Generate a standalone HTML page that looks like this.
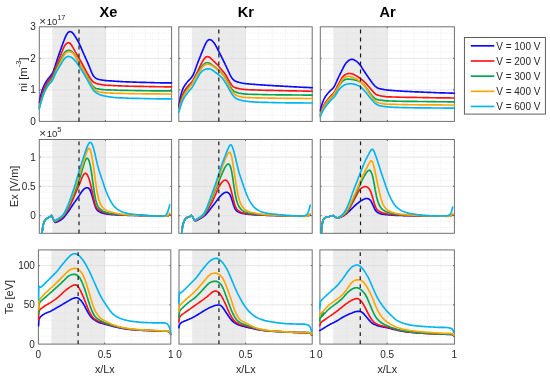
<!DOCTYPE html>
<html><head><meta charset="utf-8"><title>Plot</title>
<style>html,body{margin:0;padding:0;background:#fff}svg{display:block}text{font-family:'Liberation Sans', sans-serif;fill:#262626}</style></head>
<body>
<svg width="550" height="376" viewBox="0 0 550 376">
<rect width="550" height="376" fill="#fff"/>
<defs>
<clipPath id="cp11"><rect x="38.30" y="26.30" width="134.30" height="95.60"/></clipPath>
<clipPath id="cp12"><rect x="177.80" y="26.30" width="135.40" height="95.60"/></clipPath>
<clipPath id="cp13"><rect x="319.30" y="26.30" width="136.10" height="95.60"/></clipPath>
<clipPath id="cp21"><rect x="38.30" y="139.00" width="134.30" height="94.80"/></clipPath>
<clipPath id="cp22"><rect x="177.80" y="139.00" width="135.40" height="94.80"/></clipPath>
<clipPath id="cp23"><rect x="319.30" y="139.00" width="136.10" height="94.80"/></clipPath>
<clipPath id="cp31"><rect x="37.40" y="249.40" width="134.40" height="95.20"/></clipPath>
<clipPath id="cp32"><rect x="178.00" y="249.40" width="135.20" height="95.20"/></clipPath>
<clipPath id="cp33"><rect x="318.90" y="249.40" width="136.50" height="95.20"/></clipPath>
</defs>
<g>
<rect x="52.53" y="26.80" width="52.92" height="94.60" fill="#ebebeb"/>
<path d="M52.53 26.80V121.40M65.76 26.80V121.40M78.99 26.80V121.40M92.22 26.80V121.40M118.68 26.80V121.40M131.91 26.80V121.40M145.14 26.80V121.40M158.37 26.80V121.40M39.30 115.09H171.60M39.30 108.79H171.60M39.30 102.48H171.60M39.30 96.17H171.60M39.30 83.56H171.60M39.30 77.25H171.60M39.30 70.95H171.60M39.30 64.64H171.60M39.30 52.03H171.60M39.30 45.72H171.60M39.30 39.41H171.60M39.30 33.11H171.60" stroke="#e0e0e0" stroke-width="0.55" stroke-dasharray="1 1.3" fill="none"/>
<path d="M105.45 26.80V121.40M39.30 89.87H171.60M39.30 58.33H171.60" stroke="#dadada" stroke-width="0.7" fill="none"/>
<path d="M105.45 121.40v-1.4M105.45 26.80v1.4M39.30 89.87h1.4M171.60 89.87h-1.4M39.30 58.33h1.4M171.60 58.33h-1.4" stroke="#555" stroke-width="0.9" fill="none"/>
<rect x="39.30" y="26.80" width="132.30" height="94.60" fill="none" stroke="#707070" stroke-width="1"/>
<g clip-path="url(#cp11)" fill="none" stroke-width="1.65" stroke-linejoin="round" stroke-linecap="round">
<path d="M39.2 102.7L40.0 98.9L40.7 95.5L41.5 92.6L42.2 90.1L43.0 88.1L43.7 86.3L44.5 84.7L45.2 83.3L46.0 82.0L46.7 80.8L47.5 79.8L48.2 78.8L49.0 77.9L49.7 77.0L50.5 76.0L51.2 75.0L52.0 73.9L52.7 72.6L53.5 70.8L54.2 68.8L55.0 66.5L55.7 64.2L56.5 61.8L57.2 59.5L58.0 57.2L58.7 55.1L59.5 52.9L60.2 50.8L61.0 48.7L61.7 46.6L62.5 44.5L63.2 42.5L64.0 40.5L64.7 38.6L65.5 36.8L66.2 35.2L67.0 33.9L67.7 32.9L68.5 32.2L69.2 31.8L70.0 31.6L70.7 31.7L71.5 32.0L72.2 32.5L73.0 33.3L73.7 34.2L74.5 35.3L75.2 36.5L76.0 37.7L76.7 39.0L77.5 40.3L78.2 41.7L79.0 43.1L79.7 44.7L80.5 46.4L81.2 48.2L82.0 49.9L82.7 51.7L83.5 53.4L84.2 55.0L85.0 56.7L85.7 58.3L86.5 60.0L87.2 61.7L88.0 63.4L88.7 65.1L89.5 67.0L90.2 68.9L91.0 70.8L91.7 72.6L92.5 74.2L93.2 75.5L94.0 76.5L94.7 77.3L95.5 77.9L96.2 78.4L97.0 78.8L97.7 79.1L98.5 79.3L99.2 79.5L100.0 79.7L100.7 79.8L101.5 80.0L102.2 80.1L103.0 80.2L103.7 80.3L104.5 80.4L105.2 80.5L106.0 80.6L106.7 80.6L107.5 80.7L108.2 80.7L109.0 80.8L109.7 80.8L110.5 80.9L111.2 80.9L112.0 81.0L112.7 81.0L113.5 81.1L114.2 81.1L115.0 81.2L115.7 81.2L116.5 81.3L117.2 81.3L118.0 81.4L118.7 81.4L119.5 81.5L120.2 81.5L121.0 81.6L121.7 81.6L122.5 81.6L123.2 81.7L124.0 81.7L124.7 81.7L125.5 81.8L126.2 81.8L127.0 81.9L127.7 81.9L128.4 81.9L129.2 81.9L129.9 82.0L130.7 82.0L131.4 82.0L132.2 82.0L132.9 82.1L133.7 82.1L134.4 82.1L135.2 82.1L135.9 82.1L136.7 82.2L137.4 82.2L138.2 82.2L138.9 82.2L139.7 82.3L140.4 82.3L141.2 82.3L141.9 82.3L142.7 82.3L143.4 82.4L144.2 82.4L144.9 82.4L145.7 82.4L146.4 82.5L147.2 82.5L147.9 82.5L148.7 82.5L149.4 82.5L150.2 82.5L150.9 82.6L151.7 82.6L152.4 82.6L153.2 82.6L153.9 82.6L154.7 82.7L155.4 82.7L156.2 82.7L156.9 82.7L157.7 82.7L158.4 82.7L159.2 82.7L159.9 82.8L160.7 82.8L161.4 82.8L162.2 82.8L162.9 82.8L163.7 82.8L164.4 82.8L165.2 82.8L165.9 82.9L166.7 82.9L167.4 82.9L168.2 82.9L168.9 82.9L169.7 82.9L170.4 82.9L171.2 82.9L171.7 82.9" stroke="#0a0aff"/>
<path d="M39.2 105.9L40.0 102.5L40.7 99.3L41.5 96.4L42.2 93.8L43.0 91.6L43.7 89.7L44.5 87.9L45.2 86.4L46.0 85.0L46.7 83.7L47.5 82.5L48.2 81.4L49.0 80.3L49.7 79.4L50.5 78.5L51.2 77.5L52.0 76.3L52.7 74.9L53.5 73.2L54.2 71.2L55.0 69.2L55.7 67.2L56.5 65.3L57.2 63.5L58.0 61.7L58.7 60.0L59.5 58.2L60.2 56.3L61.0 54.4L61.7 52.4L62.5 50.5L63.2 48.7L64.0 47.0L64.7 45.7L65.5 44.6L66.2 43.8L67.0 43.2L67.7 42.9L68.5 42.7L69.2 42.8L70.0 43.2L70.7 43.9L71.5 45.0L72.2 46.3L73.0 47.6L73.7 48.9L74.5 50.2L75.2 51.6L76.0 52.9L76.7 54.2L77.5 55.5L78.2 56.8L79.0 58.2L79.7 59.5L80.5 60.8L81.2 62.2L82.0 63.5L82.7 64.9L83.5 66.2L84.2 67.6L85.0 68.9L85.7 70.3L86.5 71.7L87.2 73.1L88.0 74.4L88.7 75.7L89.5 77.0L90.2 78.2L91.0 79.3L91.7 80.3L92.5 81.1L93.2 81.8L94.0 82.3L94.7 82.8L95.5 83.1L96.2 83.4L97.0 83.7L97.7 83.9L98.5 84.0L99.2 84.2L100.0 84.3L100.7 84.5L101.5 84.6L102.2 84.8L103.0 84.9L103.7 85.0L104.5 85.1L105.2 85.1L106.0 85.2L106.7 85.2L107.5 85.3L108.2 85.3L109.0 85.3L109.7 85.4L110.5 85.4L111.2 85.5L112.0 85.5L112.7 85.5L113.5 85.6L114.2 85.6L115.0 85.6L115.7 85.7L116.5 85.7L117.2 85.7L118.0 85.8L118.7 85.8L119.5 85.8L120.2 85.9L121.0 85.9L121.7 85.9L122.5 86.0L123.2 86.0L124.0 86.0L124.7 86.0L125.5 86.1L126.2 86.1L127.0 86.1L127.7 86.1L128.4 86.1L129.2 86.2L129.9 86.2L130.7 86.2L131.4 86.2L132.2 86.2L132.9 86.2L133.7 86.3L134.4 86.3L135.2 86.3L135.9 86.3L136.7 86.3L137.4 86.3L138.2 86.3L138.9 86.4L139.7 86.4L140.4 86.4L141.2 86.4L141.9 86.4L142.7 86.4L143.4 86.4L144.2 86.5L144.9 86.5L145.7 86.5L146.4 86.5L147.2 86.5L147.9 86.5L148.7 86.5L149.4 86.6L150.2 86.6L150.9 86.6L151.7 86.6L152.4 86.6L153.2 86.6L153.9 86.6L154.7 86.6L155.4 86.7L156.2 86.7L156.9 86.7L157.7 86.7L158.4 86.7L159.2 86.7L159.9 86.7L160.7 86.7L161.4 86.7L162.2 86.7L162.9 86.7L163.7 86.8L164.4 86.8L165.2 86.8L165.9 86.8L166.7 86.8L167.4 86.8L168.2 86.8L168.9 86.8L169.7 86.8L170.4 86.8L171.2 86.8L171.7 86.8" stroke="#ff1414"/>
<path d="M39.2 107.5L40.0 104.6L40.7 101.7L41.5 99.1L42.2 96.7L43.0 94.5L43.7 92.6L44.5 90.8L45.2 89.2L46.0 87.7L46.7 86.4L47.5 85.2L48.2 84.0L49.0 82.9L49.7 81.9L50.5 80.9L51.2 79.9L52.0 78.8L52.7 77.3L53.5 75.6L54.2 73.8L55.0 71.8L55.7 70.0L56.5 68.3L57.2 66.6L58.0 65.1L58.7 63.6L59.5 62.1L60.2 60.6L61.0 59.1L61.7 57.6L62.5 56.2L63.2 54.8L64.0 53.6L64.7 52.5L65.5 51.7L66.2 51.1L67.0 50.7L67.7 50.5L68.5 50.4L69.2 50.4L70.0 50.6L70.7 50.8L71.5 51.2L72.2 51.8L73.0 52.5L73.7 53.4L74.5 54.5L75.2 55.7L76.0 57.0L76.7 58.3L77.5 59.6L78.2 61.0L79.0 62.3L79.7 63.6L80.5 64.9L81.2 66.2L82.0 67.4L82.7 68.7L83.5 70.0L84.2 71.3L85.0 72.6L85.7 73.9L86.5 75.2L87.2 76.6L88.0 77.9L88.7 79.3L89.5 80.7L90.2 82.0L91.0 83.2L91.7 84.4L92.5 85.5L93.2 86.4L94.0 87.2L94.7 87.8L95.5 88.2L96.2 88.5L97.0 88.7L97.7 88.8L98.5 88.9L99.2 89.1L100.0 89.2L100.7 89.3L101.5 89.4L102.2 89.5L103.0 89.6L103.7 89.7L104.5 89.7L105.2 89.8L106.0 89.8L106.7 89.8L107.5 89.8L108.2 89.9L109.0 89.9L109.7 89.9L110.5 89.9L111.2 90.0L112.0 90.0L112.7 90.0L113.5 90.0L114.2 90.1L115.0 90.1L115.7 90.1L116.5 90.1L117.2 90.2L118.0 90.2L118.7 90.2L119.5 90.2L120.2 90.3L121.0 90.3L121.7 90.3L122.5 90.3L123.2 90.3L124.0 90.4L124.7 90.4L125.5 90.4L126.2 90.4L127.0 90.4L127.7 90.4L128.4 90.5L129.2 90.5L129.9 90.5L130.7 90.5L131.4 90.5L132.2 90.5L132.9 90.5L133.7 90.5L134.4 90.5L135.2 90.6L135.9 90.6L136.7 90.6L137.4 90.6L138.2 90.6L138.9 90.6L139.7 90.6L140.4 90.6L141.2 90.6L141.9 90.6L142.7 90.7L143.4 90.7L144.2 90.7L144.9 90.7L145.7 90.7L146.4 90.7L147.2 90.7L147.9 90.7L148.7 90.7L149.4 90.7L150.2 90.7L150.9 90.8L151.7 90.8L152.4 90.8L153.2 90.8L153.9 90.8L154.7 90.8L155.4 90.8L156.2 90.8L156.9 90.8L157.7 90.8L158.4 90.8L159.2 90.8L159.9 90.8L160.7 90.9L161.4 90.9L162.2 90.9L162.9 90.9L163.7 90.9L164.4 90.9L165.2 90.9L165.9 90.9L166.7 90.9L167.4 90.9L168.2 90.9L168.9 90.9L169.7 90.9L170.4 90.9L171.2 90.9L171.7 90.9" stroke="#00a651"/>
<path d="M39.2 108.3L40.0 105.6L40.7 103.0L41.5 100.5L42.2 98.3L43.0 96.2L43.7 94.2L44.5 92.4L45.2 90.8L46.0 89.3L46.7 88.0L47.5 86.7L48.2 85.5L49.0 84.4L49.7 83.3L50.5 82.3L51.2 81.3L52.0 80.3L52.7 79.0L53.5 77.5L54.2 75.7L55.0 73.9L55.7 72.1L56.5 70.3L57.2 68.7L58.0 67.1L58.7 65.6L59.5 64.1L60.2 62.6L61.0 61.1L61.7 59.6L62.5 58.1L63.2 56.7L64.0 55.3L64.7 54.2L65.5 53.2L66.2 52.6L67.0 52.1L67.7 51.8L68.5 51.6L69.2 51.6L70.0 51.7L70.7 51.9L71.5 52.2L72.2 52.7L73.0 53.3L73.7 54.0L74.5 55.0L75.2 56.2L76.0 57.4L76.7 58.7L77.5 60.0L78.2 61.3L79.0 62.6L79.7 63.9L80.5 65.2L81.2 66.5L82.0 67.8L82.7 69.1L83.5 70.5L84.2 71.8L85.0 73.1L85.7 74.5L86.5 75.8L87.2 77.2L88.0 78.6L88.7 80.1L89.5 81.5L90.2 82.9L91.0 84.2L91.7 85.5L92.5 86.7L93.2 87.8L94.0 88.8L94.7 89.5L95.5 90.1L96.2 90.6L97.0 91.0L97.7 91.3L98.5 91.6L99.2 91.8L100.0 92.0L100.7 92.1L101.5 92.3L102.2 92.4L103.0 92.5L103.7 92.7L104.5 92.8L105.2 92.8L106.0 92.9L106.7 92.9L107.5 93.0L108.2 93.0L109.0 93.0L109.7 93.0L110.5 93.1L111.2 93.1L112.0 93.1L112.7 93.1L113.5 93.2L114.2 93.2L115.0 93.2L115.7 93.2L116.5 93.3L117.2 93.3L118.0 93.3L118.7 93.3L119.5 93.4L120.2 93.4L121.0 93.4L121.7 93.4L122.5 93.4L123.2 93.5L124.0 93.5L124.7 93.5L125.5 93.5L126.2 93.5L127.0 93.5L127.7 93.5L128.4 93.6L129.2 93.6L129.9 93.6L130.7 93.6L131.4 93.6L132.2 93.6L132.9 93.6L133.7 93.6L134.4 93.6L135.2 93.7L135.9 93.7L136.7 93.7L137.4 93.7L138.2 93.7L138.9 93.7L139.7 93.7L140.4 93.7L141.2 93.7L141.9 93.7L142.7 93.8L143.4 93.8L144.2 93.8L144.9 93.8L145.7 93.8L146.4 93.8L147.2 93.8L147.9 93.8L148.7 93.8L149.4 93.8L150.2 93.8L150.9 93.9L151.7 93.9L152.4 93.9L153.2 93.9L153.9 93.9L154.7 93.9L155.4 93.9L156.2 93.9L156.9 93.9L157.7 93.9L158.4 93.9L159.2 93.9L159.9 93.9L160.7 94.0L161.4 94.0L162.2 94.0L162.9 94.0L163.7 94.0L164.4 94.0L165.2 94.0L165.9 94.0L166.7 94.0L167.4 94.0L168.2 94.0L168.9 94.0L169.7 94.0L170.4 94.0L171.2 94.0L171.7 94.0" stroke="#ffa500"/>
<path d="M39.2 109.1L40.0 106.1L40.7 103.3L41.5 100.6L42.2 98.1L43.0 95.8L43.7 93.7L44.5 91.8L45.2 90.2L46.0 88.7L46.7 87.4L47.5 86.2L48.2 85.2L49.0 84.2L49.7 83.5L50.5 82.8L51.2 82.0L52.0 81.0L52.7 79.7L53.5 78.1L54.2 76.4L55.0 74.7L55.7 73.2L56.5 71.7L57.2 70.4L58.0 69.1L58.7 67.9L59.5 66.6L60.2 65.4L61.0 64.1L61.7 62.9L62.5 61.6L63.2 60.4L64.0 59.3L64.7 58.5L65.5 57.7L66.2 57.2L67.0 56.8L67.7 56.5L68.5 56.4L69.2 56.5L70.0 56.7L70.7 57.0L71.5 57.4L72.2 57.9L73.0 58.5L73.7 59.2L74.5 60.0L75.2 60.9L76.0 61.8L76.7 62.8L77.5 63.9L78.2 65.0L79.0 66.1L79.7 67.3L80.5 68.4L81.2 69.6L82.0 70.8L82.7 72.0L83.5 73.3L84.2 74.5L85.0 75.8L85.7 77.1L86.5 78.3L87.2 79.6L88.0 80.9L88.7 82.3L89.5 83.6L90.2 85.0L91.0 86.4L91.7 87.7L92.5 88.9L93.2 90.0L94.0 90.9L94.7 91.6L95.5 92.2L96.2 92.8L97.0 93.2L97.7 93.6L98.5 94.0L99.2 94.4L100.0 94.7L100.7 94.9L101.5 95.2L102.2 95.4L103.0 95.6L103.7 95.8L104.5 96.0L105.2 96.1L106.0 96.3L106.7 96.4L107.5 96.5L108.2 96.7L109.0 96.8L109.7 96.9L110.5 97.0L111.2 97.1L112.0 97.2L112.7 97.3L113.5 97.4L114.2 97.5L115.0 97.5L115.7 97.6L116.5 97.6L117.2 97.7L118.0 97.7L118.7 97.7L119.5 97.8L120.2 97.8L121.0 97.8L121.7 97.9L122.5 97.9L123.2 97.9L124.0 98.0L124.7 98.0L125.5 98.0L126.2 98.1L127.0 98.1L127.7 98.1L128.4 98.2L129.2 98.2L129.9 98.2L130.7 98.2L131.4 98.3L132.2 98.3L132.9 98.3L133.7 98.3L134.4 98.3L135.2 98.4L135.9 98.4L136.7 98.4L137.4 98.4L138.2 98.4L138.9 98.5L139.7 98.5L140.4 98.5L141.2 98.5L141.9 98.5L142.7 98.5L143.4 98.5L144.2 98.6L144.9 98.6L145.7 98.6L146.4 98.6L147.2 98.6L147.9 98.6L148.7 98.6L149.4 98.6L150.2 98.7L150.9 98.7L151.7 98.7L152.4 98.7L153.2 98.7L153.9 98.7L154.7 98.7L155.4 98.7L156.2 98.8L156.9 98.8L157.7 98.8L158.4 98.8L159.2 98.8L159.9 98.8L160.7 98.8L161.4 98.8L162.2 98.8L162.9 98.8L163.7 98.9L164.4 98.9L165.2 98.9L165.9 98.9L166.7 98.9L167.4 98.9L168.2 98.9L168.9 98.9L169.7 98.9L170.4 98.9L171.2 98.9L171.7 98.9" stroke="#00b4f0"/>
</g>
<path d="M78.99 121.40V27.10" stroke="#1a1a1a" stroke-width="1.2" stroke-dasharray="3.8 4.2" fill="none"/>
</g>
<g>
<rect x="192.14" y="26.80" width="53.36" height="94.60" fill="#ebebeb"/>
<path d="M192.14 26.80V121.40M205.48 26.80V121.40M218.82 26.80V121.40M232.16 26.80V121.40M258.84 26.80V121.40M272.18 26.80V121.40M285.52 26.80V121.40M298.86 26.80V121.40M178.80 115.09H312.20M178.80 108.79H312.20M178.80 102.48H312.20M178.80 96.17H312.20M178.80 83.56H312.20M178.80 77.25H312.20M178.80 70.95H312.20M178.80 64.64H312.20M178.80 52.03H312.20M178.80 45.72H312.20M178.80 39.41H312.20M178.80 33.11H312.20" stroke="#e0e0e0" stroke-width="0.55" stroke-dasharray="1 1.3" fill="none"/>
<path d="M245.50 26.80V121.40M178.80 89.87H312.20M178.80 58.33H312.20" stroke="#dadada" stroke-width="0.7" fill="none"/>
<path d="M245.50 121.40v-1.4M245.50 26.80v1.4M178.80 89.87h1.4M312.20 89.87h-1.4M178.80 58.33h1.4M312.20 58.33h-1.4" stroke="#555" stroke-width="0.9" fill="none"/>
<rect x="178.80" y="26.80" width="133.40" height="94.60" fill="none" stroke="#707070" stroke-width="1"/>
<g clip-path="url(#cp12)" fill="none" stroke-width="1.65" stroke-linejoin="round" stroke-linecap="round">
<path d="M178.8 106.6L179.6 101.9L180.3 97.7L181.1 94.4L181.8 91.7L182.6 89.6L183.3 87.9L184.1 86.5L184.8 85.3L185.6 84.2L186.3 83.2L187.1 82.3L187.8 81.4L188.6 80.6L189.3 79.9L190.1 79.1L190.8 78.3L191.6 77.4L192.3 76.3L193.1 75.0L193.8 73.4L194.6 71.5L195.3 69.5L196.1 67.3L196.8 65.2L197.6 63.2L198.3 61.3L199.1 59.4L199.8 57.5L200.6 55.6L201.3 53.7L202.1 51.9L202.8 50.1L203.6 48.3L204.3 46.5L205.1 44.8L205.8 43.3L206.6 41.9L207.3 40.9L208.1 40.2L208.8 39.8L209.6 39.6L210.3 39.7L211.1 40.0L211.8 40.5L212.6 41.2L213.3 42.0L214.1 42.9L214.8 44.0L215.6 45.3L216.3 46.6L217.1 48.1L217.8 49.5L218.6 51.0L219.3 52.5L220.1 54.0L220.8 55.5L221.6 57.0L222.3 58.5L223.1 60.0L223.8 61.5L224.6 63.0L225.3 64.6L226.1 66.1L226.8 67.8L227.6 69.4L228.3 71.1L229.1 72.7L229.8 74.3L230.6 75.8L231.3 77.1L232.1 78.3L232.8 79.2L233.6 79.9L234.3 80.5L235.1 81.0L235.8 81.3L236.6 81.6L237.3 81.9L238.1 82.1L238.8 82.3L239.6 82.5L240.3 82.7L241.1 82.8L241.8 83.0L242.6 83.2L243.3 83.3L244.1 83.4L244.8 83.5L245.6 83.6L246.3 83.7L247.1 83.8L247.8 83.9L248.6 83.9L249.3 84.0L250.1 84.0L250.8 84.1L251.6 84.2L252.3 84.2L253.1 84.3L253.8 84.3L254.6 84.4L255.3 84.5L256.1 84.5L256.8 84.6L257.6 84.6L258.3 84.7L259.1 84.7L259.8 84.8L260.6 84.8L261.3 84.9L262.1 84.9L262.8 85.0L263.6 85.0L264.3 85.1L265.1 85.1L265.8 85.2L266.6 85.2L267.3 85.3L268.1 85.3L268.8 85.4L269.6 85.4L270.3 85.5L271.1 85.5L271.8 85.5L272.6 85.6L273.3 85.6L274.1 85.7L274.8 85.7L275.6 85.8L276.3 85.8L277.1 85.8L277.8 85.9L278.6 85.9L279.3 86.0L280.1 86.0L280.8 86.1L281.6 86.1L282.3 86.1L283.1 86.2L283.8 86.2L284.6 86.3L285.3 86.3L286.1 86.3L286.8 86.4L287.6 86.4L288.3 86.5L289.1 86.5L289.8 86.6L290.6 86.6L291.3 86.6L292.1 86.7L292.8 86.7L293.6 86.8L294.3 86.8L295.1 86.8L295.8 86.9L296.6 86.9L297.3 87.0L298.1 87.0L298.8 87.0L299.6 87.1L300.3 87.1L301.1 87.2L301.8 87.2L302.6 87.2L303.3 87.3L304.1 87.3L304.8 87.3L305.6 87.4L306.3 87.4L307.1 87.5L307.8 87.5L308.6 87.5L309.3 87.6L310.1 87.6L310.8 87.6L311.6 87.7L312.3 87.7" stroke="#0a0aff"/>
<path d="M178.8 109.1L179.6 105.7L180.3 102.4L181.1 99.6L181.8 97.1L182.6 95.0L183.3 93.2L184.1 91.7L184.8 90.3L185.6 89.2L186.3 88.1L187.1 87.1L187.8 86.2L188.6 85.3L189.3 84.5L190.1 83.8L190.8 83.1L191.6 82.2L192.3 81.2L193.1 79.9L193.8 78.6L194.6 77.2L195.3 75.9L196.1 74.5L196.8 73.1L197.6 71.6L198.3 70.0L199.1 68.4L199.8 66.7L200.6 65.1L201.3 63.6L202.1 62.2L202.8 60.9L203.6 59.7L204.3 58.6L205.1 57.8L205.8 57.1L206.6 56.7L207.3 56.6L208.1 56.7L208.8 56.9L209.6 57.3L210.3 57.9L211.1 58.6L211.8 59.3L212.6 60.0L213.3 60.8L214.1 61.5L214.8 62.2L215.6 63.0L216.3 63.7L217.1 64.5L217.8 65.3L218.6 66.2L219.3 67.0L220.1 67.9L220.8 68.8L221.6 69.7L222.3 70.6L223.1 71.4L223.8 72.3L224.6 73.3L225.3 74.3L226.1 75.5L226.8 76.8L227.6 78.1L228.3 79.5L229.1 80.8L229.8 82.1L230.6 83.3L231.3 84.5L232.1 85.5L232.8 86.3L233.6 86.9L234.3 87.3L235.1 87.6L235.8 87.9L236.6 88.1L237.3 88.3L238.1 88.4L238.8 88.6L239.6 88.7L240.3 88.9L241.1 89.0L241.8 89.1L242.6 89.2L243.3 89.3L244.1 89.4L244.8 89.5L245.6 89.6L246.3 89.6L247.1 89.6L247.8 89.7L248.6 89.7L249.3 89.7L250.1 89.8L250.8 89.8L251.6 89.8L252.3 89.9L253.1 89.9L253.8 89.9L254.6 89.9L255.3 90.0L256.1 90.0L256.8 90.0L257.6 90.0L258.3 90.1L259.1 90.1L259.8 90.1L260.6 90.1L261.3 90.2L262.1 90.2L262.8 90.2L263.6 90.2L264.3 90.2L265.1 90.3L265.8 90.3L266.6 90.3L267.3 90.3L268.1 90.3L268.8 90.4L269.6 90.4L270.3 90.4L271.1 90.4L271.8 90.4L272.6 90.4L273.3 90.4L274.1 90.5L274.8 90.5L275.6 90.5L276.3 90.5L277.1 90.5L277.8 90.5L278.6 90.6L279.3 90.6L280.1 90.6L280.8 90.6L281.6 90.6L282.3 90.6L283.1 90.7L283.8 90.7L284.6 90.7L285.3 90.7L286.1 90.7L286.8 90.7L287.6 90.8L288.3 90.8L289.1 90.8L289.8 90.8L290.6 90.8L291.3 90.8L292.1 90.8L292.8 90.9L293.6 90.9L294.3 90.9L295.1 90.9L295.8 90.9L296.6 90.9L297.3 91.0L298.1 91.0L298.8 91.0L299.6 91.0L300.3 91.0L301.1 91.0L301.8 91.0L302.6 91.0L303.3 91.1L304.1 91.1L304.8 91.1L305.6 91.1L306.3 91.1L307.1 91.1L307.8 91.1L308.6 91.1L309.3 91.2L310.1 91.2L310.8 91.2L311.6 91.2L312.3 91.2" stroke="#ff1414"/>
<path d="M178.8 110.0L179.6 107.1L180.3 104.3L181.1 101.8L181.8 99.5L182.6 97.5L183.3 95.7L184.1 94.1L184.8 92.8L185.6 91.6L186.3 90.5L187.1 89.5L187.8 88.5L188.6 87.6L189.3 86.7L190.1 85.8L190.8 84.9L191.6 84.0L192.3 82.8L193.1 81.4L193.8 79.9L194.6 78.4L195.3 77.0L196.1 75.7L196.8 74.5L197.6 73.3L198.3 72.1L199.1 70.9L199.8 69.6L200.6 68.5L201.3 67.3L202.1 66.2L202.8 65.3L203.6 64.5L204.3 63.9L205.1 63.4L205.8 63.0L206.6 62.8L207.3 62.7L208.1 62.7L208.8 62.9L209.6 63.3L210.3 63.7L211.1 64.2L211.8 64.7L212.6 65.3L213.3 65.8L214.1 66.4L214.8 67.0L215.6 67.6L216.3 68.2L217.1 68.8L217.8 69.4L218.6 70.0L219.3 70.7L220.1 71.3L220.8 72.0L221.6 72.8L222.3 73.7L223.1 74.7L223.8 75.7L224.6 76.9L225.3 78.0L226.1 79.3L226.8 80.5L227.6 81.9L228.3 83.2L229.1 84.6L229.8 86.0L230.6 87.3L231.3 88.4L232.1 89.4L232.8 90.2L233.6 90.9L234.3 91.4L235.1 91.8L235.8 92.1L236.6 92.4L237.3 92.6L238.1 92.8L238.8 93.0L239.6 93.2L240.3 93.3L241.1 93.5L241.8 93.6L242.6 93.7L243.3 93.8L244.1 93.9L244.8 94.0L245.6 94.1L246.3 94.1L247.1 94.1L247.8 94.2L248.6 94.2L249.3 94.2L250.1 94.2L250.8 94.2L251.6 94.3L252.3 94.3L253.1 94.3L253.8 94.3L254.6 94.4L255.3 94.4L256.1 94.4L256.8 94.4L257.6 94.4L258.3 94.5L259.1 94.5L259.8 94.5L260.6 94.5L261.3 94.5L262.1 94.5L262.8 94.6L263.6 94.6L264.3 94.6L265.1 94.6L265.8 94.6L266.6 94.6L267.3 94.6L268.1 94.7L268.8 94.7L269.6 94.7L270.3 94.7L271.1 94.7L271.8 94.7L272.6 94.7L273.3 94.7L274.1 94.7L274.8 94.7L275.6 94.8L276.3 94.8L277.1 94.8L277.8 94.8L278.6 94.8L279.3 94.8L280.1 94.8L280.8 94.8L281.6 94.8L282.3 94.8L283.1 94.8L283.8 94.9L284.6 94.9L285.3 94.9L286.1 94.9L286.8 94.9L287.6 94.9L288.3 94.9L289.1 94.9L289.8 94.9L290.6 94.9L291.3 94.9L292.1 94.9L292.8 95.0L293.6 95.0L294.3 95.0L295.1 95.0L295.8 95.0L296.6 95.0L297.3 95.0L298.1 95.0L298.8 95.0L299.6 95.0L300.3 95.0L301.1 95.0L301.8 95.0L302.6 95.0L303.3 95.1L304.1 95.1L304.8 95.1L305.6 95.1L306.3 95.1L307.1 95.1L307.8 95.1L308.6 95.1L309.3 95.1L310.1 95.1L310.8 95.1L311.6 95.1L312.3 95.1" stroke="#00a651"/>
<path d="M178.8 110.4L179.6 107.6L180.3 104.9L181.1 102.4L181.8 100.2L182.6 98.2L183.3 96.4L184.1 94.9L184.8 93.5L185.6 92.4L186.3 91.3L187.1 90.3L187.8 89.3L188.6 88.4L189.3 87.4L190.1 86.5L190.8 85.6L191.6 84.6L192.3 83.4L193.1 82.1L193.8 80.6L194.6 79.2L195.3 77.8L196.1 76.6L196.8 75.5L197.6 74.3L198.3 73.2L199.1 72.1L199.8 70.9L200.6 69.7L201.3 68.6L202.1 67.6L202.8 66.6L203.6 65.8L204.3 65.2L205.1 64.7L205.8 64.3L206.6 64.1L207.3 64.0L208.1 64.0L208.8 64.2L209.6 64.4L210.3 64.7L211.1 65.1L211.8 65.5L212.6 65.9L213.3 66.4L214.1 67.0L214.8 67.5L215.6 68.1L216.3 68.7L217.1 69.3L217.8 69.9L218.6 70.5L219.3 71.2L220.1 71.8L220.8 72.6L221.6 73.4L222.3 74.3L223.1 75.3L223.8 76.4L224.6 77.5L225.3 78.8L226.1 80.1L226.8 81.4L227.6 82.8L228.3 84.3L229.1 85.9L229.8 87.4L230.6 88.8L231.3 90.1L232.1 91.3L232.8 92.4L233.6 93.2L234.3 93.9L235.1 94.5L235.8 95.0L236.6 95.5L237.3 95.8L238.1 96.1L238.8 96.3L239.6 96.5L240.3 96.7L241.1 96.8L241.8 97.0L242.6 97.1L243.3 97.2L244.1 97.3L244.8 97.4L245.6 97.5L246.3 97.5L247.1 97.5L247.8 97.6L248.6 97.6L249.3 97.6L250.1 97.6L250.8 97.6L251.6 97.7L252.3 97.7L253.1 97.7L253.8 97.7L254.6 97.7L255.3 97.8L256.1 97.8L256.8 97.8L257.6 97.8L258.3 97.9L259.1 97.9L259.8 97.9L260.6 97.9L261.3 97.9L262.1 97.9L262.8 98.0L263.6 98.0L264.3 98.0L265.1 98.0L265.8 98.0L266.6 98.0L267.3 98.0L268.1 98.1L268.8 98.1L269.6 98.1L270.3 98.1L271.1 98.1L271.8 98.1L272.6 98.1L273.3 98.1L274.1 98.1L274.8 98.1L275.6 98.2L276.3 98.2L277.1 98.2L277.8 98.2L278.6 98.2L279.3 98.2L280.1 98.2L280.8 98.2L281.6 98.2L282.3 98.2L283.1 98.2L283.8 98.3L284.6 98.3L285.3 98.3L286.1 98.3L286.8 98.3L287.6 98.3L288.3 98.3L289.1 98.3L289.8 98.3L290.6 98.3L291.3 98.3L292.1 98.3L292.8 98.4L293.6 98.4L294.3 98.4L295.1 98.4L295.8 98.4L296.6 98.4L297.3 98.4L298.1 98.4L298.8 98.4L299.6 98.4L300.3 98.4L301.1 98.4L301.8 98.4L302.6 98.4L303.3 98.5L304.1 98.5L304.8 98.5L305.6 98.5L306.3 98.5L307.1 98.5L307.8 98.5L308.6 98.5L309.3 98.5L310.1 98.5L310.8 98.5L311.6 98.5L312.3 98.5" stroke="#ffa500"/>
<path d="M178.8 112.1L179.6 109.5L180.3 107.0L181.1 104.7L181.8 102.7L182.6 100.9L183.3 99.3L184.1 97.9L184.8 96.6L185.6 95.5L186.3 94.4L187.1 93.4L187.8 92.5L188.6 91.6L189.3 90.7L190.1 89.8L190.8 89.0L191.6 88.1L192.3 87.1L193.1 85.9L193.8 84.6L194.6 83.2L195.3 81.8L196.1 80.4L196.8 79.0L197.6 77.6L198.3 76.3L199.1 75.0L199.8 73.8L200.6 72.8L201.3 71.9L202.1 71.1L202.8 70.6L203.6 70.1L204.3 69.7L205.1 69.4L205.8 69.1L206.6 69.0L207.3 68.9L208.1 68.9L208.8 68.9L209.6 69.0L210.3 69.1L211.1 69.4L211.8 69.8L212.6 70.2L213.3 70.8L214.1 71.3L214.8 71.9L215.6 72.5L216.3 73.0L217.1 73.6L217.8 74.2L218.6 74.8L219.3 75.5L220.1 76.1L220.8 76.7L221.6 77.5L222.3 78.2L223.1 79.1L223.8 80.2L224.6 81.3L225.3 82.5L226.1 83.7L226.8 85.0L227.6 86.3L228.3 87.7L229.1 89.1L229.8 90.5L230.6 91.8L231.3 93.1L232.1 94.3L232.8 95.3L233.6 96.3L234.3 97.0L235.1 97.7L235.8 98.3L236.6 98.7L237.3 99.1L238.1 99.4L238.8 99.6L239.6 99.8L240.3 100.0L241.1 100.2L241.8 100.4L242.6 100.6L243.3 100.7L244.1 100.9L244.8 101.0L245.6 101.1L246.3 101.2L247.1 101.3L247.8 101.4L248.6 101.5L249.3 101.6L250.1 101.6L250.8 101.7L251.6 101.8L252.3 101.9L253.1 101.9L253.8 102.0L254.6 102.0L255.3 102.1L256.1 102.1L256.8 102.1L257.6 102.1L258.3 102.2L259.1 102.2L259.8 102.2L260.6 102.2L261.3 102.3L262.1 102.3L262.8 102.3L263.6 102.3L264.3 102.3L265.1 102.4L265.8 102.4L266.6 102.4L267.3 102.4L268.1 102.4L268.8 102.5L269.6 102.5L270.3 102.5L271.1 102.5L271.8 102.5L272.6 102.6L273.3 102.6L274.1 102.6L274.8 102.6L275.6 102.6L276.3 102.6L277.1 102.6L277.8 102.7L278.6 102.7L279.3 102.7L280.1 102.7L280.8 102.7L281.6 102.7L282.3 102.7L283.1 102.7L283.8 102.7L284.6 102.7L285.3 102.8L286.1 102.8L286.8 102.8L287.6 102.8L288.3 102.8L289.1 102.8L289.8 102.8L290.6 102.8L291.3 102.8L292.1 102.8L292.8 102.8L293.6 102.9L294.3 102.9L295.1 102.9L295.8 102.9L296.6 102.9L297.3 102.9L298.1 102.9L298.8 102.9L299.6 102.9L300.3 102.9L301.1 102.9L301.8 102.9L302.6 102.9L303.3 103.0L304.1 103.0L304.8 103.0L305.6 103.0L306.3 103.0L307.1 103.0L307.8 103.0L308.6 103.0L309.3 103.0L310.1 103.0L310.8 103.0L311.6 103.0L312.3 103.0" stroke="#00b4f0"/>
</g>
<path d="M218.82 121.40V27.10" stroke="#1a1a1a" stroke-width="1.2" stroke-dasharray="3.8 4.2" fill="none"/>
</g>
<g>
<rect x="333.71" y="26.80" width="53.64" height="94.60" fill="#ebebeb"/>
<path d="M333.71 26.80V121.40M347.12 26.80V121.40M360.53 26.80V121.40M373.94 26.80V121.40M400.76 26.80V121.40M414.17 26.80V121.40M427.58 26.80V121.40M440.99 26.80V121.40M320.30 115.09H454.40M320.30 108.79H454.40M320.30 102.48H454.40M320.30 96.17H454.40M320.30 83.56H454.40M320.30 77.25H454.40M320.30 70.95H454.40M320.30 64.64H454.40M320.30 52.03H454.40M320.30 45.72H454.40M320.30 39.41H454.40M320.30 33.11H454.40" stroke="#e0e0e0" stroke-width="0.55" stroke-dasharray="1 1.3" fill="none"/>
<path d="M387.35 26.80V121.40M320.30 89.87H454.40M320.30 58.33H454.40" stroke="#dadada" stroke-width="0.7" fill="none"/>
<path d="M387.35 121.40v-1.4M387.35 26.80v1.4M320.30 89.87h1.4M454.40 89.87h-1.4M320.30 58.33h1.4M454.40 58.33h-1.4" stroke="#555" stroke-width="0.9" fill="none"/>
<rect x="320.30" y="26.80" width="134.10" height="94.60" fill="none" stroke="#707070" stroke-width="1"/>
<g clip-path="url(#cp13)" fill="none" stroke-width="1.65" stroke-linejoin="round" stroke-linecap="round">
<path d="M320.2 111.0L320.9 108.0L321.7 105.2L322.4 102.9L323.2 100.9L323.9 99.2L324.7 97.8L325.4 96.5L326.2 95.4L326.9 94.5L327.7 93.6L328.4 92.7L329.2 91.9L329.9 91.1L330.7 90.4L331.4 89.7L332.2 89.1L332.9 88.3L333.7 87.3L334.4 86.1L335.2 84.6L335.9 83.0L336.7 81.3L337.4 79.7L338.2 78.0L338.9 76.5L339.7 74.9L340.4 73.3L341.2 71.8L341.9 70.3L342.7 68.8L343.4 67.4L344.2 66.0L344.9 64.7L345.7 63.6L346.4 62.6L347.2 61.8L347.9 61.1L348.7 60.5L349.4 60.0L350.2 59.7L350.9 59.4L351.7 59.3L352.4 59.4L353.2 59.5L353.9 59.8L354.7 60.2L355.4 60.6L356.2 61.1L356.9 61.7L357.7 62.3L358.4 63.0L359.2 63.9L359.9 64.8L360.7 65.8L361.4 66.9L362.2 68.1L362.9 69.3L363.7 70.4L364.4 71.6L365.2 72.7L365.9 73.8L366.7 74.9L367.4 76.0L368.2 77.1L368.9 78.2L369.7 79.3L370.4 80.3L371.2 81.4L371.9 82.4L372.7 83.4L373.4 84.3L374.2 85.2L374.9 86.0L375.7 86.7L376.4 87.2L377.2 87.7L377.9 88.1L378.7 88.4L379.4 88.6L380.2 88.8L380.9 89.0L381.7 89.1L382.4 89.3L383.2 89.4L383.9 89.5L384.7 89.7L385.4 89.8L386.2 89.9L386.9 90.0L387.7 90.1L388.4 90.1L389.2 90.2L389.9 90.3L390.7 90.3L391.4 90.4L392.2 90.5L392.9 90.5L393.7 90.6L394.4 90.6L395.2 90.7L395.9 90.7L396.7 90.8L397.4 90.9L398.2 90.9L398.9 91.0L399.7 91.0L400.4 91.1L401.2 91.1L401.9 91.1L402.7 91.2L403.4 91.2L404.2 91.3L404.9 91.3L405.7 91.4L406.4 91.4L407.2 91.4L407.9 91.5L408.7 91.5L409.4 91.5L410.2 91.6L410.9 91.6L411.7 91.6L412.4 91.7L413.2 91.7L413.9 91.7L414.7 91.8L415.4 91.8L416.2 91.8L416.9 91.9L417.7 91.9L418.4 91.9L419.2 92.0L419.9 92.0L420.7 92.0L421.4 92.1L422.2 92.1L422.9 92.1L423.7 92.2L424.4 92.2L425.2 92.2L425.9 92.2L426.7 92.3L427.4 92.3L428.2 92.3L428.9 92.4L429.7 92.4L430.4 92.4L431.2 92.5L431.9 92.5L432.7 92.5L433.4 92.5L434.2 92.6L434.9 92.6L435.7 92.6L436.4 92.7L437.2 92.7L437.9 92.7L438.7 92.7L439.4 92.8L440.2 92.8L440.9 92.8L441.7 92.8L442.4 92.9L443.2 92.9L443.9 92.9L444.7 92.9L445.4 93.0L446.2 93.0L446.9 93.0L447.7 93.0L448.4 93.0L449.2 93.1L449.9 93.1L450.7 93.1L451.4 93.1L452.2 93.1L452.9 93.2L453.7 93.2L454.4 93.2" stroke="#0a0aff"/>
<path d="M320.2 114.2L320.9 112.0L321.7 109.9L322.4 108.0L323.2 106.4L323.9 105.0L324.7 103.7L325.4 102.5L326.2 101.4L326.9 100.4L327.7 99.5L328.4 98.6L329.2 97.7L329.9 96.9L330.7 96.1L331.4 95.4L332.2 94.7L332.9 93.9L333.7 93.0L334.4 91.9L335.2 90.6L335.9 89.2L336.7 87.7L337.4 86.2L338.2 84.7L338.9 83.3L339.7 81.9L340.4 80.5L341.2 79.1L341.9 77.9L342.7 76.8L343.4 76.0L344.2 75.3L344.9 74.8L345.7 74.4L346.4 74.0L347.2 73.8L347.9 73.6L348.7 73.5L349.4 73.5L350.2 73.5L350.9 73.6L351.7 73.8L352.4 74.0L353.2 74.3L353.9 74.6L354.7 75.0L355.4 75.4L356.2 75.8L356.9 76.2L357.7 76.7L358.4 77.2L359.2 77.7L359.9 78.2L360.7 78.7L361.4 79.3L362.2 79.9L362.9 80.5L363.7 81.2L364.4 81.9L365.2 82.6L365.9 83.4L366.7 84.3L367.4 85.1L368.2 86.0L368.9 86.8L369.7 87.7L370.4 88.5L371.2 89.4L371.9 90.3L372.7 91.1L373.4 92.0L374.2 92.8L374.9 93.5L375.7 94.1L376.4 94.5L377.2 94.9L377.9 95.1L378.7 95.3L379.4 95.5L380.2 95.7L380.9 95.9L381.7 96.0L382.4 96.2L383.2 96.3L383.9 96.4L384.7 96.5L385.4 96.6L386.2 96.7L386.9 96.8L387.7 96.8L388.4 96.8L389.2 96.9L389.9 96.9L390.7 96.9L391.4 96.9L392.2 97.0L392.9 97.0L393.7 97.0L394.4 97.0L395.2 97.0L395.9 97.1L396.7 97.1L397.4 97.1L398.2 97.1L398.9 97.1L399.7 97.2L400.4 97.2L401.2 97.2L401.9 97.2L402.7 97.2L403.4 97.2L404.2 97.2L404.9 97.3L405.7 97.3L406.4 97.3L407.2 97.3L407.9 97.3L408.7 97.3L409.4 97.3L410.2 97.4L410.9 97.4L411.7 97.4L412.4 97.4L413.2 97.4L413.9 97.4L414.7 97.4L415.4 97.4L416.2 97.4L416.9 97.5L417.7 97.5L418.4 97.5L419.2 97.5L419.9 97.5L420.7 97.5L421.4 97.5L422.2 97.5L422.9 97.6L423.7 97.6L424.4 97.6L425.2 97.6L425.9 97.6L426.7 97.6L427.4 97.6L428.2 97.6L428.9 97.6L429.7 97.7L430.4 97.7L431.2 97.7L431.9 97.7L432.7 97.7L433.4 97.7L434.2 97.7L434.9 97.7L435.7 97.8L436.4 97.8L437.2 97.8L437.9 97.8L438.7 97.8L439.4 97.8L440.2 97.8L440.9 97.8L441.7 97.8L442.4 97.9L443.2 97.9L443.9 97.9L444.7 97.9L445.4 97.9L446.2 97.9L446.9 97.9L447.7 97.9L448.4 97.9L449.2 97.9L449.9 97.9L450.7 98.0L451.4 98.0L452.2 98.0L452.9 98.0L453.7 98.0L454.4 98.0" stroke="#ff1414"/>
<path d="M320.2 115.5L320.9 113.5L321.7 111.6L322.4 109.8L323.2 108.3L323.9 106.9L324.7 105.6L325.4 104.4L326.2 103.3L326.9 102.3L327.7 101.4L328.4 100.5L329.2 99.7L329.9 98.8L330.7 98.0L331.4 97.3L332.2 96.5L332.9 95.7L333.7 94.8L334.4 93.8L335.2 92.7L335.9 91.4L336.7 90.0L337.4 88.6L338.2 87.3L338.9 86.1L339.7 84.9L340.4 83.8L341.2 82.7L341.9 81.8L342.7 81.0L343.4 80.4L344.2 80.0L344.9 79.6L345.7 79.4L346.4 79.3L347.2 79.2L347.9 79.1L348.7 79.1L349.4 79.2L350.2 79.2L350.9 79.3L351.7 79.4L352.4 79.5L353.2 79.6L353.9 79.8L354.7 80.0L355.4 80.2L356.2 80.3L356.9 80.6L357.7 80.8L358.4 81.1L359.2 81.4L359.9 81.7L360.7 82.2L361.4 82.7L362.2 83.3L362.9 84.0L363.7 84.7L364.4 85.6L365.2 86.5L365.9 87.4L366.7 88.4L367.4 89.4L368.2 90.5L368.9 91.5L369.7 92.6L370.4 93.6L371.2 94.6L371.9 95.5L372.7 96.4L373.4 97.2L374.2 97.9L374.9 98.5L375.7 98.9L376.4 99.3L377.2 99.5L377.9 99.7L378.7 99.9L379.4 100.0L380.2 100.1L380.9 100.2L381.7 100.3L382.4 100.4L383.2 100.5L383.9 100.6L384.7 100.7L385.4 100.8L386.2 100.8L386.9 100.9L387.7 100.9L388.4 100.9L389.2 101.0L389.9 101.0L390.7 101.0L391.4 101.0L392.2 101.0L392.9 101.1L393.7 101.1L394.4 101.1L395.2 101.1L395.9 101.1L396.7 101.2L397.4 101.2L398.2 101.2L398.9 101.2L399.7 101.2L400.4 101.2L401.2 101.2L401.9 101.3L402.7 101.3L403.4 101.3L404.2 101.3L404.9 101.3L405.7 101.3L406.4 101.3L407.2 101.3L407.9 101.3L408.7 101.4L409.4 101.4L410.2 101.4L410.9 101.4L411.7 101.4L412.4 101.4L413.2 101.4L413.9 101.4L414.7 101.4L415.4 101.4L416.2 101.4L416.9 101.4L417.7 101.5L418.4 101.5L419.2 101.5L419.9 101.5L420.7 101.5L421.4 101.5L422.2 101.5L422.9 101.5L423.7 101.5L424.4 101.5L425.2 101.5L425.9 101.5L426.7 101.6L427.4 101.6L428.2 101.6L428.9 101.6L429.7 101.6L430.4 101.6L431.2 101.6L431.9 101.6L432.7 101.6L433.4 101.6L434.2 101.6L434.9 101.6L435.7 101.6L436.4 101.7L437.2 101.7L437.9 101.7L438.7 101.7L439.4 101.7L440.2 101.7L440.9 101.7L441.7 101.7L442.4 101.7L443.2 101.7L443.9 101.7L444.7 101.7L445.4 101.7L446.2 101.7L446.9 101.8L447.7 101.8L448.4 101.8L449.2 101.8L449.9 101.8L450.7 101.8L451.4 101.8L452.2 101.8L452.9 101.8L453.7 101.8L454.4 101.8" stroke="#00a651"/>
<path d="M320.2 115.2L320.9 113.2L321.7 111.3L322.4 109.5L323.2 107.9L323.9 106.5L324.7 105.1L325.4 103.9L326.2 102.8L326.9 101.7L327.7 100.8L328.4 99.9L329.2 99.0L329.9 98.2L330.7 97.4L331.4 96.7L332.2 96.0L332.9 95.2L333.7 94.3L334.4 93.2L335.2 92.0L335.9 90.7L336.7 89.3L337.4 88.0L338.2 86.6L338.9 85.3L339.7 84.0L340.4 82.7L341.2 81.4L341.9 80.2L342.7 79.2L343.4 78.4L344.2 77.8L344.9 77.4L345.7 77.0L346.4 76.7L347.2 76.5L347.9 76.4L348.7 76.4L349.4 76.4L350.2 76.5L350.9 76.7L351.7 76.9L352.4 77.2L353.2 77.5L353.9 77.9L354.7 78.2L355.4 78.6L356.2 79.0L356.9 79.4L357.7 79.9L358.4 80.3L359.2 80.9L359.9 81.4L360.7 82.0L361.4 82.7L362.2 83.4L362.9 84.2L363.7 85.1L364.4 86.0L365.2 87.0L365.9 88.1L366.7 89.2L367.4 90.3L368.2 91.5L368.9 92.6L369.7 93.7L370.4 94.8L371.2 95.9L371.9 97.0L372.7 98.0L373.4 98.9L374.2 99.8L374.9 100.5L375.7 101.2L376.4 101.7L377.2 102.2L377.9 102.5L378.7 102.8L379.4 103.0L380.2 103.2L380.9 103.4L381.7 103.5L382.4 103.6L383.2 103.8L383.9 103.9L384.7 104.0L385.4 104.1L386.2 104.1L386.9 104.2L387.7 104.2L388.4 104.2L389.2 104.3L389.9 104.3L390.7 104.3L391.4 104.3L392.2 104.3L392.9 104.4L393.7 104.4L394.4 104.4L395.2 104.4L395.9 104.4L396.7 104.4L397.4 104.5L398.2 104.5L398.9 104.5L399.7 104.5L400.4 104.5L401.2 104.5L401.9 104.6L402.7 104.6L403.4 104.6L404.2 104.6L404.9 104.6L405.7 104.6L406.4 104.6L407.2 104.6L407.9 104.6L408.7 104.7L409.4 104.7L410.2 104.7L410.9 104.7L411.7 104.7L412.4 104.7L413.2 104.7L413.9 104.7L414.7 104.7L415.4 104.7L416.2 104.7L416.9 104.7L417.7 104.7L418.4 104.7L419.2 104.8L419.9 104.8L420.7 104.8L421.4 104.8L422.2 104.8L422.9 104.8L423.7 104.8L424.4 104.8L425.2 104.8L425.9 104.8L426.7 104.8L427.4 104.8L428.2 104.8L428.9 104.8L429.7 104.9L430.4 104.9L431.2 104.9L431.9 104.9L432.7 104.9L433.4 104.9L434.2 104.9L434.9 104.9L435.7 104.9L436.4 104.9L437.2 104.9L437.9 104.9L438.7 104.9L439.4 104.9L440.2 104.9L440.9 104.9L441.7 104.9L442.4 105.0L443.2 105.0L443.9 105.0L444.7 105.0L445.4 105.0L446.2 105.0L446.9 105.0L447.7 105.0L448.4 105.0L449.2 105.0L449.9 105.0L450.7 105.0L451.4 105.0L452.2 105.0L452.9 105.0L453.7 105.0L454.4 105.0" stroke="#ffa500"/>
<path d="M320.2 116.8L320.9 115.0L321.7 113.2L322.4 111.7L323.2 110.3L323.9 109.1L324.7 107.9L325.4 106.9L326.2 105.9L326.9 104.9L327.7 104.0L328.4 103.1L329.2 102.2L329.9 101.3L330.7 100.5L331.4 99.7L332.2 99.0L332.9 98.3L333.7 97.5L334.4 96.7L335.2 95.7L335.9 94.6L336.7 93.4L337.4 92.1L338.2 90.9L338.9 89.8L339.7 88.9L340.4 88.0L341.2 87.3L341.9 86.6L342.7 86.0L343.4 85.6L344.2 85.1L344.9 84.8L345.7 84.5L346.4 84.2L347.2 84.0L347.9 83.9L348.7 83.7L349.4 83.7L350.2 83.7L350.9 83.7L351.7 83.7L352.4 83.9L353.2 84.0L353.9 84.2L354.7 84.4L355.4 84.6L356.2 84.8L356.9 85.1L357.7 85.4L358.4 85.7L359.2 86.1L359.9 86.6L360.7 87.1L361.4 87.7L362.2 88.4L362.9 89.1L363.7 89.9L364.4 90.7L365.2 91.6L365.9 92.5L366.7 93.4L367.4 94.3L368.2 95.3L368.9 96.2L369.7 97.2L370.4 98.1L371.2 99.0L371.9 99.9L372.7 100.7L373.4 101.5L374.2 102.3L374.9 103.1L375.7 103.7L376.4 104.3L377.2 104.7L377.9 105.1L378.7 105.4L379.4 105.6L380.2 105.8L380.9 106.0L381.7 106.1L382.4 106.2L383.2 106.4L383.9 106.5L384.7 106.6L385.4 106.6L386.2 106.7L386.9 106.8L387.7 106.8L388.4 106.9L389.2 107.0L389.9 107.0L390.7 107.1L391.4 107.1L392.2 107.2L392.9 107.2L393.7 107.2L394.4 107.3L395.2 107.3L395.9 107.4L396.7 107.4L397.4 107.4L398.2 107.4L398.9 107.5L399.7 107.5L400.4 107.5L401.2 107.5L401.9 107.5L402.7 107.6L403.4 107.6L404.2 107.6L404.9 107.6L405.7 107.6L406.4 107.6L407.2 107.6L407.9 107.7L408.7 107.7L409.4 107.7L410.2 107.7L410.9 107.7L411.7 107.7L412.4 107.7L413.2 107.7L413.9 107.8L414.7 107.8L415.4 107.8L416.2 107.8L416.9 107.8L417.7 107.8L418.4 107.8L419.2 107.8L419.9 107.8L420.7 107.9L421.4 107.9L422.2 107.9L422.9 107.9L423.7 107.9L424.4 107.9L425.2 107.9L425.9 107.9L426.7 107.9L427.4 107.9L428.2 107.9L428.9 107.9L429.7 107.9L430.4 107.9L431.2 108.0L431.9 108.0L432.7 108.0L433.4 108.0L434.2 108.0L434.9 108.0L435.7 108.0L436.4 108.0L437.2 108.0L437.9 108.0L438.7 108.0L439.4 108.0L440.2 108.0L440.9 108.0L441.7 108.0L442.4 108.0L443.2 108.0L443.9 108.1L444.7 108.1L445.4 108.1L446.2 108.1L446.9 108.1L447.7 108.1L448.4 108.1L449.2 108.1L449.9 108.1L450.7 108.1L451.4 108.1L452.2 108.1L452.9 108.1L453.7 108.1L454.4 108.1" stroke="#00b4f0"/>
</g>
<path d="M360.53 121.40V27.10" stroke="#1a1a1a" stroke-width="1.2" stroke-dasharray="3.8 4.2" fill="none"/>
</g>
<g>
<rect x="52.53" y="139.50" width="52.92" height="93.80" fill="#ebebeb"/>
<path d="M52.53 139.50V233.30M65.76 139.50V233.30M78.99 139.50V233.30M92.22 139.50V233.30M118.68 139.50V233.30M131.91 139.50V233.30M145.14 139.50V233.30M158.37 139.50V233.30M39.30 227.44H171.60M39.30 221.58H171.60M39.30 209.85H171.60M39.30 203.99H171.60M39.30 198.12H171.60M39.30 192.26H171.60M39.30 180.54H171.60M39.30 174.68H171.60M39.30 168.81H171.60M39.30 162.95H171.60M39.30 151.23H171.60M39.30 145.36H171.60" stroke="#e0e0e0" stroke-width="0.55" stroke-dasharray="1 1.3" fill="none"/>
<path d="M105.45 139.50V233.30M39.30 215.71H171.60M39.30 186.40H171.60M39.30 157.09H171.60" stroke="#dadada" stroke-width="0.7" fill="none"/>
<path d="M105.45 233.30v-1.4M105.45 139.50v1.4M39.30 215.71h1.4M171.60 215.71h-1.4M39.30 186.40h1.4M171.60 186.40h-1.4M39.30 157.09h1.4M171.60 157.09h-1.4" stroke="#555" stroke-width="0.9" fill="none"/>
<rect x="39.30" y="139.50" width="132.30" height="93.80" fill="none" stroke="#707070" stroke-width="1"/>
<g clip-path="url(#cp21)" fill="none" stroke-width="1.65" stroke-linejoin="round" stroke-linecap="round">
<path d="M41.7 236.0L42.5 229.0L43.2 224.7L44.0 222.4L44.7 220.8L45.5 219.6L46.2 219.0L47.0 218.4L47.7 217.9L48.5 217.5L49.2 217.1L50.0 216.9L50.7 216.2L51.5 215.3L52.2 216.5L53.0 218.3L53.7 220.1L54.5 221.6L55.2 222.4L56.0 222.3L56.7 222.1L57.5 221.8L58.2 221.4L59.0 221.0L59.7 220.6L60.5 220.2L61.2 219.6L62.0 219.1L62.7 218.4L63.5 217.7L64.2 216.9L65.0 216.0L65.7 215.1L66.5 214.1L67.2 213.1L68.0 212.1L68.7 211.0L69.5 209.9L70.2 208.8L71.0 207.6L71.7 206.5L72.5 205.3L73.2 204.2L74.0 203.1L74.7 202.1L75.5 201.0L76.2 200.0L77.0 198.9L77.7 197.9L78.5 196.8L79.2 195.6L80.0 194.4L80.7 193.2L81.5 192.0L82.2 191.0L83.0 190.1L83.7 189.3L84.5 188.7L85.2 188.2L86.0 187.9L86.7 187.7L87.5 187.7L88.2 188.0L89.0 188.5L89.7 189.5L90.5 191.0L91.2 193.0L92.0 195.4L92.7 198.1L93.5 200.8L94.2 203.4L95.0 205.7L95.7 207.6L96.5 209.1L97.2 210.1L98.0 210.8L98.7 211.4L99.5 211.9L100.2 212.3L101.0 212.6L101.7 212.9L102.5 213.1L103.2 213.3L104.0 213.5L104.7 213.6L105.5 213.8L106.2 214.0L107.0 214.1L107.7 214.2L108.5 214.3L109.2 214.4L110.0 214.5L110.7 214.5L111.5 214.6L112.2 214.6L113.0 214.7L113.7 214.7L114.5 214.7L115.2 214.8L116.0 214.8L116.7 214.9L117.5 214.9L118.2 214.9L119.0 215.0L119.7 215.0L120.5 215.0L121.2 215.1L122.0 215.1L122.7 215.1L123.5 215.2L124.2 215.2L125.0 215.2L125.7 215.2L126.5 215.2L127.2 215.3L128.0 215.3L128.7 215.3L129.4 215.3L130.2 215.3L130.9 215.4L131.7 215.4L132.4 215.4L133.2 215.4L133.9 215.4L134.7 215.4L135.4 215.5L136.2 215.5L136.9 215.5L137.7 215.5L138.4 215.5L139.2 215.6L139.9 215.6L140.7 215.6L141.4 215.6L142.2 215.6L142.9 215.6L143.7 215.7L144.4 215.7L145.2 215.7L145.9 215.7L146.7 215.7L147.4 215.8L148.2 215.8L148.9 215.8L149.7 215.8L150.4 215.8L151.2 215.8L151.9 215.9L152.7 215.9L153.4 215.9L154.2 215.9L154.9 215.9L155.7 215.9L156.4 216.0L157.2 216.0L157.9 216.0L158.7 216.0L159.4 216.0L160.2 216.0L160.9 216.0L161.7 216.1L162.4 216.1L163.2 216.1L163.9 216.1L164.7 216.1L165.4 216.0L166.2 216.0L166.9 215.9L167.7 215.8L168.4 215.6L169.2 215.3L169.7 215.0" stroke="#0a0aff"/>
<path d="M41.7 236.0L42.5 229.0L43.2 224.7L44.0 222.4L44.7 220.8L45.5 219.6L46.2 219.0L47.0 218.4L47.7 217.9L48.5 217.5L49.2 217.1L50.0 216.9L50.7 216.2L51.5 215.3L52.2 216.5L53.0 218.3L53.7 220.2L54.5 221.5L55.2 221.8L56.0 221.6L56.7 221.2L57.5 220.8L58.2 220.3L59.0 219.8L59.7 219.3L60.5 218.7L61.2 218.1L62.0 217.4L62.7 216.7L63.5 215.9L64.2 215.0L65.0 214.1L65.7 213.1L66.5 211.9L67.2 210.7L68.0 209.4L68.7 208.0L69.5 206.6L70.2 205.1L71.0 203.6L71.7 202.0L72.5 200.3L73.2 198.7L74.0 197.0L74.7 195.2L75.5 193.5L76.2 191.7L77.0 189.9L77.7 188.2L78.5 186.5L79.2 184.8L80.0 182.9L80.7 181.0L81.5 179.0L82.2 177.1L83.0 175.5L83.7 174.3L84.5 173.6L85.2 173.3L86.0 173.5L86.7 174.1L87.5 175.2L88.2 176.8L89.0 178.8L89.7 181.2L90.5 184.0L91.2 187.2L92.0 190.6L92.7 194.2L93.5 197.8L94.2 201.1L95.0 203.9L95.7 206.1L96.5 207.5L97.2 208.5L98.0 209.2L98.7 209.9L99.5 210.4L100.2 210.9L101.0 211.3L101.7 211.7L102.5 212.0L103.2 212.2L104.0 212.5L104.7 212.7L105.5 212.9L106.2 213.1L107.0 213.3L107.7 213.5L108.5 213.7L109.2 213.8L110.0 213.9L110.7 214.0L111.5 214.0L112.2 214.1L113.0 214.2L113.7 214.2L114.5 214.3L115.2 214.4L116.0 214.4L116.7 214.5L117.5 214.6L118.2 214.6L119.0 214.7L119.7 214.7L120.5 214.8L121.2 214.8L122.0 214.9L122.7 214.9L123.5 214.9L124.2 215.0L125.0 215.0L125.7 215.0L126.5 215.0L127.2 215.1L128.0 215.1L128.7 215.1L129.4 215.1L130.2 215.2L130.9 215.2L131.7 215.2L132.4 215.2L133.2 215.2L133.9 215.3L134.7 215.3L135.4 215.3L136.2 215.3L136.9 215.4L137.7 215.4L138.4 215.4L139.2 215.4L139.9 215.5L140.7 215.5L141.4 215.5L142.2 215.5L142.9 215.5L143.7 215.6L144.4 215.6L145.2 215.6L145.9 215.6L146.7 215.6L147.4 215.7L148.2 215.7L148.9 215.7L149.7 215.7L150.4 215.8L151.2 215.8L151.9 215.8L152.7 215.8L153.4 215.8L154.2 215.9L154.9 215.9L155.7 215.9L156.4 215.9L157.2 215.9L157.9 216.0L158.7 216.0L159.4 216.0L160.2 216.0L160.9 216.0L161.7 216.1L162.4 216.1L163.2 216.1L163.9 216.1L164.7 216.1L165.4 216.0L166.2 215.9L166.9 215.8L167.7 215.7L168.4 215.4L169.2 215.0L169.7 214.8" stroke="#ff1414"/>
<path d="M41.7 236.0L42.5 229.0L43.2 224.7L44.0 222.4L44.7 220.8L45.5 219.6L46.2 219.0L47.0 218.4L47.7 217.9L48.5 217.5L49.2 217.1L50.0 216.9L50.7 216.2L51.5 215.3L52.2 216.5L53.0 218.3L53.7 220.2L54.5 221.3L55.2 221.3L56.0 220.9L56.7 220.6L57.5 220.1L58.2 219.7L59.0 219.1L59.7 218.6L60.5 218.0L61.2 217.4L62.0 216.7L62.7 215.9L63.5 215.1L64.2 214.1L65.0 213.1L65.7 211.9L66.5 210.5L67.2 209.1L68.0 207.5L68.7 205.8L69.5 204.0L70.2 202.3L71.0 200.5L71.7 198.6L72.5 196.8L73.2 195.0L74.0 193.3L74.7 191.5L75.5 189.8L76.2 188.0L77.0 186.2L77.7 184.2L78.5 182.1L79.2 179.8L80.0 177.4L80.7 174.9L81.5 172.5L82.2 170.0L83.0 167.5L83.7 165.0L84.5 162.6L85.2 160.6L86.0 159.1L86.7 158.3L87.5 158.3L88.2 159.0L89.0 160.6L89.7 163.1L90.5 166.6L91.2 171.0L92.0 176.0L92.7 181.5L93.5 186.9L94.2 192.0L95.0 196.4L95.7 200.0L96.5 202.8L97.2 204.9L98.0 206.4L98.7 207.5L99.5 208.4L100.2 209.1L101.0 209.7L101.7 210.3L102.5 210.8L103.2 211.2L104.0 211.5L104.7 211.9L105.5 212.1L106.2 212.4L107.0 212.7L107.7 212.9L108.5 213.1L109.2 213.3L110.0 213.4L110.7 213.5L111.5 213.6L112.2 213.7L113.0 213.8L113.7 213.8L114.5 213.9L115.2 214.0L116.0 214.1L116.7 214.2L117.5 214.3L118.2 214.3L119.0 214.4L119.7 214.5L120.5 214.5L121.2 214.6L122.0 214.6L122.7 214.7L123.5 214.7L124.2 214.8L125.0 214.8L125.7 214.8L126.5 214.9L127.2 214.9L128.0 214.9L128.7 214.9L129.4 215.0L130.2 215.0L130.9 215.0L131.7 215.0L132.4 215.1L133.2 215.1L133.9 215.1L134.7 215.1L135.4 215.2L136.2 215.2L136.9 215.2L137.7 215.2L138.4 215.3L139.2 215.3L139.9 215.3L140.7 215.4L141.4 215.4L142.2 215.4L142.9 215.4L143.7 215.5L144.4 215.5L145.2 215.5L145.9 215.5L146.7 215.6L147.4 215.6L148.2 215.6L148.9 215.6L149.7 215.7L150.4 215.7L151.2 215.7L151.9 215.7L152.7 215.8L153.4 215.8L154.2 215.8L154.9 215.8L155.7 215.9L156.4 215.9L157.2 215.9L157.9 215.9L158.7 215.9L159.4 216.0L160.2 216.0L160.9 216.0L161.7 216.0L162.4 216.1L163.2 216.1L163.9 216.1L164.7 216.1L165.4 216.0L166.2 215.9L166.9 215.7L167.7 215.5L168.4 215.2L169.2 214.8L169.7 214.5" stroke="#00a651"/>
<path d="M41.7 236.0L42.5 229.0L43.2 224.7L44.0 222.4L44.7 220.8L45.5 219.6L46.2 219.0L47.0 218.4L47.7 217.9L48.5 217.5L49.2 217.1L50.0 216.9L50.7 216.2L51.5 215.3L52.2 216.5L53.0 218.3L53.7 220.2L54.5 221.1L55.2 220.8L56.0 220.4L56.7 220.0L57.5 219.5L58.2 219.1L59.0 218.6L59.7 218.1L60.5 217.6L61.2 217.0L62.0 216.4L62.7 215.6L63.5 214.7L64.2 213.6L65.0 212.3L65.7 211.0L66.5 209.5L67.2 207.9L68.0 206.2L68.7 204.5L69.5 202.7L70.2 200.9L71.0 199.0L71.7 197.1L72.5 195.2L73.2 193.2L74.0 191.1L74.7 188.9L75.5 186.7L76.2 184.4L77.0 182.2L77.7 179.8L78.5 177.5L79.2 175.2L80.0 172.9L80.7 170.6L81.5 168.3L82.2 166.0L83.0 163.7L83.7 161.5L84.5 159.1L85.2 156.7L86.0 154.3L86.7 152.0L87.5 150.1L88.2 148.7L89.0 148.3L89.7 148.9L90.5 150.7L91.2 153.6L92.0 157.4L92.7 161.7L93.5 166.5L94.2 171.9L95.0 177.5L95.7 183.0L96.5 188.1L97.2 192.5L98.0 196.2L98.7 199.2L99.5 201.6L100.2 203.5L101.0 205.0L101.7 206.2L102.5 207.2L103.2 208.1L104.0 208.8L104.7 209.4L105.5 209.9L106.2 210.3L107.0 210.7L107.7 211.0L108.5 211.3L109.2 211.6L110.0 211.8L110.7 212.1L111.5 212.3L112.2 212.4L113.0 212.6L113.7 212.8L114.5 212.9L115.2 213.1L116.0 213.2L116.7 213.4L117.5 213.5L118.2 213.7L119.0 213.8L119.7 213.9L120.5 214.0L121.2 214.1L122.0 214.2L122.7 214.3L123.5 214.3L124.2 214.4L125.0 214.5L125.7 214.6L126.5 214.6L127.2 214.7L128.0 214.8L128.7 214.8L129.4 214.9L130.2 214.9L130.9 215.0L131.7 215.0L132.4 215.0L133.2 215.1L133.9 215.1L134.7 215.2L135.4 215.2L136.2 215.2L136.9 215.3L137.7 215.3L138.4 215.3L139.2 215.4L139.9 215.4L140.7 215.4L141.4 215.5L142.2 215.5L142.9 215.5L143.7 215.6L144.4 215.6L145.2 215.6L145.9 215.7L146.7 215.7L147.4 215.7L148.2 215.8L148.9 215.8L149.7 215.9L150.4 215.9L151.2 215.9L151.9 216.0L152.7 216.0L153.4 216.0L154.2 216.1L154.9 216.1L155.7 216.1L156.4 216.2L157.2 216.2L157.9 216.2L158.7 216.3L159.4 216.3L160.2 216.3L160.9 216.3L161.7 216.3L162.4 216.3L163.2 216.3L163.9 216.3L164.7 216.2L165.4 216.2L166.2 216.0L166.9 215.9L167.7 215.6L168.4 214.9L169.2 213.8L169.7 213.0" stroke="#ffa500"/>
<path d="M41.7 236.0L42.5 229.0L43.2 224.7L44.0 222.4L44.7 220.8L45.5 219.6L46.2 219.0L47.0 218.4L47.7 217.9L48.5 217.5L49.2 217.1L50.0 216.9L50.7 216.2L51.5 215.3L52.2 216.5L53.0 218.4L53.7 220.3L54.5 220.8L55.2 220.3L56.0 219.9L56.7 219.5L57.5 219.1L58.2 218.7L59.0 218.3L59.7 217.8L60.5 217.3L61.2 216.8L62.0 216.1L62.7 215.3L63.5 214.3L64.2 213.1L65.0 211.8L65.7 210.2L66.5 208.6L67.2 206.8L68.0 205.0L68.7 203.1L69.5 201.2L70.2 199.2L71.0 197.2L71.7 195.1L72.5 192.9L73.2 190.6L74.0 188.3L74.7 185.9L75.5 183.4L76.2 180.9L77.0 178.3L77.7 175.8L78.5 173.2L79.2 170.7L80.0 168.3L80.7 165.9L81.5 163.5L82.2 161.2L83.0 158.9L83.7 156.6L84.5 154.3L85.2 152.1L86.0 149.9L86.7 147.9L87.5 146.1L88.2 144.5L89.0 143.2L89.7 142.5L90.5 142.3L91.2 142.8L92.0 144.0L92.7 145.8L93.5 148.1L94.2 150.8L95.0 153.9L95.7 157.2L96.5 160.5L97.2 163.7L98.0 166.6L98.7 169.3L99.5 171.7L100.2 174.0L101.0 176.3L101.7 178.5L102.5 180.8L103.2 183.0L104.0 185.2L104.7 187.4L105.5 189.6L106.2 191.6L107.0 193.5L107.7 195.3L108.5 196.9L109.2 198.5L110.0 199.9L110.7 201.3L111.5 202.5L112.2 203.7L113.0 204.8L113.7 205.8L114.5 206.6L115.2 207.4L116.0 208.1L116.7 208.7L117.5 209.3L118.2 209.8L119.0 210.3L119.7 210.8L120.5 211.1L121.2 211.5L122.0 211.7L122.7 212.0L123.5 212.2L124.2 212.5L125.0 212.7L125.7 212.9L126.5 213.1L127.2 213.3L128.0 213.5L128.7 213.6L129.4 213.8L130.2 213.9L130.9 214.0L131.7 214.1L132.4 214.2L133.2 214.3L133.9 214.4L134.7 214.5L135.4 214.5L136.2 214.6L136.9 214.7L137.7 214.8L138.4 214.9L139.2 214.9L139.9 215.0L140.7 215.1L141.4 215.2L142.2 215.2L142.9 215.3L143.7 215.4L144.4 215.4L145.2 215.5L145.9 215.5L146.7 215.6L147.4 215.6L148.2 215.7L148.9 215.7L149.7 215.8L150.4 215.8L151.2 215.9L151.9 215.9L152.7 215.9L153.4 216.0L154.2 216.0L154.9 216.1L155.7 216.1L156.4 216.2L157.2 216.2L157.9 216.2L158.7 216.2L159.4 216.2L160.2 216.2L160.9 216.2L161.7 216.2L162.4 216.1L163.2 216.1L163.9 216.0L164.7 215.7L165.4 215.4L166.2 214.7L166.9 213.7L167.7 211.9L168.4 209.5L169.2 206.9L169.7 204.9" stroke="#00b4f0"/>
</g>
<path d="M78.99 233.30V139.80" stroke="#1a1a1a" stroke-width="1.2" stroke-dasharray="3.8 4.2" fill="none"/>
</g>
<g>
<rect x="192.14" y="139.50" width="53.36" height="93.80" fill="#ebebeb"/>
<path d="M192.14 139.50V233.30M205.48 139.50V233.30M218.82 139.50V233.30M232.16 139.50V233.30M258.84 139.50V233.30M272.18 139.50V233.30M285.52 139.50V233.30M298.86 139.50V233.30M178.80 227.44H312.20M178.80 221.58H312.20M178.80 209.85H312.20M178.80 203.99H312.20M178.80 198.12H312.20M178.80 192.26H312.20M178.80 180.54H312.20M178.80 174.68H312.20M178.80 168.81H312.20M178.80 162.95H312.20M178.80 151.23H312.20M178.80 145.36H312.20" stroke="#e0e0e0" stroke-width="0.55" stroke-dasharray="1 1.3" fill="none"/>
<path d="M245.50 139.50V233.30M178.80 215.71H312.20M178.80 186.40H312.20M178.80 157.09H312.20" stroke="#dadada" stroke-width="0.7" fill="none"/>
<path d="M245.50 233.30v-1.4M245.50 139.50v1.4M178.80 215.71h1.4M312.20 215.71h-1.4M178.80 186.40h1.4M312.20 186.40h-1.4M178.80 157.09h1.4M312.20 157.09h-1.4" stroke="#555" stroke-width="0.9" fill="none"/>
<rect x="178.80" y="139.50" width="133.40" height="93.80" fill="none" stroke="#707070" stroke-width="1"/>
<g clip-path="url(#cp22)" fill="none" stroke-width="1.65" stroke-linejoin="round" stroke-linecap="round">
<path d="M181.7 236.0L182.4 227.0L183.2 223.7L183.9 221.5L184.7 219.8L185.4 218.9L186.2 218.1L186.9 217.6L187.7 217.2L188.4 217.0L189.2 216.8L189.9 216.6L190.7 216.0L191.4 215.4L192.2 215.9L192.9 217.4L193.7 218.9L194.4 220.2L195.2 220.7L195.9 220.7L196.7 220.4L197.4 220.1L198.2 219.7L198.9 219.3L199.7 218.9L200.4 218.5L201.2 218.1L201.9 217.6L202.7 217.1L203.4 216.5L204.2 215.9L204.9 215.3L205.7 214.6L206.4 213.8L207.2 213.0L207.9 212.1L208.7 211.2L209.4 210.2L210.2 209.2L210.9 208.3L211.7 207.3L212.4 206.3L213.2 205.3L213.9 204.4L214.7 203.4L215.4 202.4L216.2 201.4L216.9 200.4L217.7 199.4L218.4 198.5L219.2 197.5L219.9 196.6L220.7 195.8L221.4 195.0L222.2 194.3L222.9 193.7L223.7 193.2L224.4 192.7L225.2 192.4L225.9 192.2L226.7 192.2L227.4 192.4L228.2 192.7L228.9 193.3L229.7 194.2L230.4 195.6L231.2 197.5L231.9 199.7L232.7 202.2L233.4 204.6L234.2 206.8L234.9 208.6L235.7 209.8L236.4 210.7L237.2 211.3L237.9 211.7L238.7 212.1L239.4 212.5L240.2 212.8L240.9 213.0L241.7 213.2L242.4 213.4L243.2 213.5L243.9 213.7L244.7 213.8L245.4 213.9L246.2 214.0L246.9 214.1L247.7 214.2L248.4 214.3L249.2 214.3L249.9 214.4L250.7 214.5L251.4 214.5L252.2 214.6L252.9 214.7L253.7 214.7L254.4 214.8L255.2 214.8L255.9 214.8L256.7 214.9L257.4 214.9L258.2 214.9L258.9 215.0L259.7 215.0L260.4 215.0L261.2 215.1L261.9 215.1L262.7 215.1L263.4 215.2L264.2 215.2L264.9 215.2L265.7 215.3L266.4 215.3L267.2 215.3L267.9 215.3L268.7 215.4L269.4 215.4L270.2 215.4L270.9 215.4L271.7 215.4L272.4 215.5L273.2 215.5L273.9 215.5L274.7 215.5L275.4 215.5L276.2 215.6L276.9 215.6L277.7 215.6L278.4 215.6L279.2 215.6L279.9 215.7L280.7 215.7L281.4 215.7L282.2 215.7L282.9 215.7L283.7 215.8L284.4 215.8L285.2 215.8L285.9 215.8L286.7 215.8L287.4 215.8L288.2 215.9L288.9 215.9L289.7 215.9L290.4 215.9L291.2 215.9L291.9 215.9L292.7 216.0L293.4 216.0L294.2 216.0L294.9 216.0L295.7 216.0L296.4 216.0L297.2 216.0L297.9 216.0L298.7 216.0L299.4 216.1L300.2 216.1L300.9 216.1L301.7 216.1L302.4 216.1L303.2 216.1L303.9 216.1L304.7 216.1L305.4 216.1L306.2 216.0L306.9 215.9L307.7 215.8L308.4 215.7L309.2 215.5L309.9 215.2L310.2 215.1" stroke="#0a0aff"/>
<path d="M181.7 236.0L182.4 227.0L183.2 223.7L183.9 221.5L184.7 219.8L185.4 218.9L186.2 218.1L186.9 217.6L187.7 217.2L188.4 217.0L189.2 216.8L189.9 216.6L190.7 216.0L191.4 215.4L192.2 215.9L192.9 217.4L193.7 218.9L194.4 220.2L195.2 220.6L195.9 220.4L196.7 220.0L197.4 219.6L198.2 219.2L198.9 218.7L199.7 218.3L200.4 217.9L201.2 217.4L201.9 216.9L202.7 216.3L203.4 215.6L204.2 214.8L204.9 213.8L205.7 212.8L206.4 211.8L207.2 210.6L207.9 209.5L208.7 208.2L209.4 206.9L210.2 205.6L210.9 204.2L211.7 202.8L212.4 201.3L213.2 199.8L213.9 198.2L214.7 196.5L215.4 194.8L216.2 193.0L216.9 191.2L217.7 189.5L218.4 187.9L219.2 186.5L219.9 185.2L220.7 184.0L221.4 182.9L222.2 182.0L222.9 181.2L223.7 180.6L224.4 180.2L225.2 180.0L225.9 180.2L226.7 180.6L227.4 181.3L228.2 182.4L228.9 183.8L229.7 185.7L230.4 188.0L231.2 190.6L231.9 193.6L232.7 196.7L233.4 199.8L234.2 202.8L234.9 205.3L235.7 207.2L236.4 208.7L237.2 209.7L237.9 210.4L238.7 210.9L239.4 211.4L240.2 211.8L240.9 212.2L241.7 212.5L242.4 212.7L243.2 212.9L243.9 213.1L244.7 213.3L245.4 213.5L246.2 213.6L246.9 213.8L247.7 213.9L248.4 214.0L249.2 214.1L249.9 214.2L250.7 214.2L251.4 214.3L252.2 214.3L252.9 214.4L253.7 214.4L254.4 214.5L255.2 214.5L255.9 214.6L256.7 214.6L257.4 214.7L258.2 214.7L258.9 214.8L259.7 214.8L260.4 214.9L261.2 214.9L261.9 214.9L262.7 215.0L263.4 215.0L264.2 215.1L264.9 215.1L265.7 215.1L266.4 215.2L267.2 215.2L267.9 215.2L268.7 215.3L269.4 215.3L270.2 215.3L270.9 215.3L271.7 215.4L272.4 215.4L273.2 215.4L273.9 215.4L274.7 215.4L275.4 215.5L276.2 215.5L276.9 215.5L277.7 215.5L278.4 215.6L279.2 215.6L279.9 215.6L280.7 215.6L281.4 215.7L282.2 215.7L282.9 215.7L283.7 215.7L284.4 215.7L285.2 215.8L285.9 215.8L286.7 215.8L287.4 215.8L288.2 215.9L288.9 215.9L289.7 215.9L290.4 215.9L291.2 215.9L291.9 215.9L292.7 216.0L293.4 216.0L294.2 216.0L294.9 216.0L295.7 216.0L296.4 216.0L297.2 216.0L297.9 216.0L298.7 216.1L299.4 216.1L300.2 216.1L300.9 216.1L301.7 216.1L302.4 216.1L303.2 216.1L303.9 216.1L304.7 216.1L305.4 216.0L306.2 216.0L306.9 215.9L307.7 215.8L308.4 215.6L309.2 215.3L309.9 215.0L310.2 214.8" stroke="#ff1414"/>
<path d="M181.7 236.0L182.4 227.0L183.2 223.7L183.9 221.5L184.7 219.8L185.4 218.9L186.2 218.1L186.9 217.6L187.7 217.2L188.4 217.0L189.2 216.8L189.9 216.6L190.7 216.0L191.4 215.4L192.2 215.9L192.9 217.4L193.7 218.9L194.4 220.1L195.2 220.4L195.9 220.1L196.7 219.7L197.4 219.2L198.2 218.8L198.9 218.3L199.7 217.9L200.4 217.5L201.2 217.0L201.9 216.5L202.7 215.9L203.4 215.1L204.2 214.2L204.9 213.2L205.7 212.0L206.4 210.6L207.2 209.1L207.9 207.5L208.7 205.8L209.4 204.0L210.2 202.2L210.9 200.4L211.7 198.6L212.4 196.8L213.2 195.0L213.9 193.2L214.7 191.5L215.4 189.7L216.2 187.9L216.9 186.1L217.7 184.3L218.4 182.5L219.2 180.7L219.9 178.9L220.7 177.0L221.4 175.2L222.2 173.4L222.9 171.7L223.7 170.1L224.4 168.5L225.2 167.1L225.9 165.9L226.7 164.9L227.4 164.2L228.2 164.0L228.9 164.2L229.7 165.0L230.4 166.6L231.2 169.2L231.9 172.9L232.7 177.5L233.4 182.6L234.2 187.8L234.9 192.5L235.7 196.5L236.4 199.8L237.2 202.3L237.9 204.3L238.7 206.0L239.4 207.3L240.2 208.3L240.9 209.2L241.7 209.9L242.4 210.4L243.2 210.9L243.9 211.3L244.7 211.7L245.4 212.0L246.2 212.3L246.9 212.6L247.7 212.9L248.4 213.1L249.2 213.3L249.9 213.4L250.7 213.5L251.4 213.6L252.2 213.6L252.9 213.7L253.7 213.8L254.4 213.9L255.2 213.9L255.9 214.0L256.7 214.1L257.4 214.2L258.2 214.2L258.9 214.3L259.7 214.4L260.4 214.5L261.2 214.5L261.9 214.6L262.7 214.7L263.4 214.7L264.2 214.8L264.9 214.8L265.7 214.9L266.4 214.9L267.2 215.0L267.9 215.0L268.7 215.0L269.4 215.1L270.2 215.1L270.9 215.1L271.7 215.2L272.4 215.2L273.2 215.2L273.9 215.2L274.7 215.3L275.4 215.3L276.2 215.3L276.9 215.4L277.7 215.4L278.4 215.4L279.2 215.4L279.9 215.5L280.7 215.5L281.4 215.5L282.2 215.5L282.9 215.6L283.7 215.6L284.4 215.6L285.2 215.6L285.9 215.7L286.7 215.7L287.4 215.7L288.2 215.7L288.9 215.8L289.7 215.8L290.4 215.8L291.2 215.8L291.9 215.9L292.7 215.9L293.4 215.9L294.2 215.9L294.9 215.9L295.7 215.9L296.4 216.0L297.2 216.0L297.9 216.0L298.7 216.0L299.4 216.0L300.2 216.0L300.9 216.0L301.7 216.1L302.4 216.1L303.2 216.1L303.9 216.1L304.7 216.1L305.4 216.0L306.2 215.9L306.9 215.8L307.7 215.7L308.4 215.5L309.2 215.1L309.9 214.7L310.2 214.5" stroke="#00a651"/>
<path d="M181.7 236.0L182.4 227.0L183.2 223.7L183.9 221.5L184.7 219.8L185.4 218.9L186.2 218.1L186.9 217.6L187.7 217.2L188.4 217.0L189.2 216.8L189.9 216.6L190.7 216.0L191.4 215.4L192.2 215.9L192.9 217.4L193.7 218.9L194.4 220.1L195.2 220.2L195.9 219.8L196.7 219.4L197.4 218.9L198.2 218.5L198.9 218.1L199.7 217.6L200.4 217.2L201.2 216.7L201.9 216.1L202.7 215.4L203.4 214.6L204.2 213.5L204.9 212.3L205.7 211.0L206.4 209.5L207.2 207.9L207.9 206.2L208.7 204.4L209.4 202.6L210.2 200.7L210.9 198.8L211.7 197.0L212.4 195.1L213.2 193.2L213.9 191.4L214.7 189.6L215.4 187.7L216.2 185.7L216.9 183.6L217.7 181.3L218.4 179.0L219.2 176.7L219.9 174.3L220.7 172.0L221.4 169.7L222.2 167.5L222.9 165.3L223.7 163.2L224.4 161.2L225.2 159.3L225.9 157.5L226.7 155.8L227.4 154.4L228.2 153.2L228.9 152.4L229.7 152.3L230.4 153.1L231.2 154.9L231.9 158.0L232.7 162.0L233.4 166.7L234.2 171.7L234.9 176.8L235.7 181.8L236.4 186.6L237.2 190.9L237.9 194.6L238.7 197.7L239.4 200.3L240.2 202.4L240.9 204.1L241.7 205.5L242.4 206.8L243.2 207.8L243.9 208.6L244.7 209.3L245.4 209.8L246.2 210.3L246.9 210.8L247.7 211.1L248.4 211.5L249.2 211.7L249.9 212.0L250.7 212.2L251.4 212.3L252.2 212.5L252.9 212.7L253.7 212.8L254.4 213.0L255.2 213.1L255.9 213.3L256.7 213.4L257.4 213.6L258.2 213.7L258.9 213.8L259.7 213.9L260.4 214.0L261.2 214.1L261.9 214.2L262.7 214.3L263.4 214.3L264.2 214.4L264.9 214.5L265.7 214.6L266.4 214.6L267.2 214.7L267.9 214.8L268.7 214.8L269.4 214.9L270.2 214.9L270.9 215.0L271.7 215.0L272.4 215.0L273.2 215.1L273.9 215.1L274.7 215.2L275.4 215.2L276.2 215.2L276.9 215.3L277.7 215.3L278.4 215.3L279.2 215.4L279.9 215.4L280.7 215.4L281.4 215.5L282.2 215.5L282.9 215.5L283.7 215.6L284.4 215.6L285.2 215.6L285.9 215.7L286.7 215.7L287.4 215.7L288.2 215.8L288.9 215.8L289.7 215.9L290.4 215.9L291.2 215.9L291.9 216.0L292.7 216.0L293.4 216.0L294.2 216.1L294.9 216.1L295.7 216.1L296.4 216.2L297.2 216.2L297.9 216.2L298.7 216.3L299.4 216.3L300.2 216.3L300.9 216.3L301.7 216.3L302.4 216.3L303.2 216.3L303.9 216.3L304.7 216.3L305.4 216.2L306.2 216.2L306.9 216.1L307.7 215.9L308.4 215.6L309.2 214.9L309.9 214.0L310.2 213.7" stroke="#ffa500"/>
<path d="M181.7 236.0L182.4 227.0L183.2 223.7L183.9 221.5L184.7 219.8L185.4 218.9L186.2 218.1L186.9 217.6L187.7 217.2L188.4 217.0L189.2 216.8L189.9 216.6L190.7 216.0L191.4 215.4L192.2 215.9L192.9 217.4L193.7 218.9L194.4 220.1L195.2 220.1L195.9 219.7L196.7 219.2L197.4 218.7L198.2 218.2L198.9 217.7L199.7 217.3L200.4 216.8L201.2 216.3L201.9 215.7L202.7 214.9L203.4 214.0L204.2 212.9L204.9 211.6L205.7 210.2L206.4 208.6L207.2 206.8L207.9 204.9L208.7 202.9L209.4 200.9L210.2 198.7L210.9 196.6L211.7 194.5L212.4 192.4L213.2 190.4L213.9 188.4L214.7 186.4L215.4 184.2L216.2 182.0L216.9 179.7L217.7 177.4L218.4 175.1L219.2 172.7L219.9 170.4L220.7 168.1L221.4 165.9L222.2 163.7L222.9 161.6L223.7 159.6L224.4 157.7L225.2 155.7L225.9 153.8L226.7 151.9L227.4 150.1L228.2 148.4L228.9 146.8L229.7 145.5L230.4 144.8L231.2 144.9L231.9 145.9L232.7 147.7L233.4 150.0L234.2 152.8L234.9 155.7L235.7 158.8L236.4 162.0L237.2 165.1L237.9 168.2L238.7 171.1L239.4 173.7L240.2 176.0L240.9 178.3L241.7 180.5L242.4 182.7L243.2 184.9L243.9 187.1L244.7 189.2L245.4 191.2L246.2 193.3L246.9 195.2L247.7 197.0L248.4 198.6L249.2 200.1L249.9 201.4L250.7 202.6L251.4 203.8L252.2 204.8L252.9 205.8L253.7 206.7L254.4 207.5L255.2 208.1L255.9 208.8L256.7 209.3L257.4 209.8L258.2 210.3L258.9 210.7L259.7 211.1L260.4 211.4L261.2 211.7L261.9 212.0L262.7 212.2L263.4 212.4L264.2 212.5L264.9 212.7L265.7 212.9L266.4 213.1L267.2 213.2L267.9 213.4L268.7 213.5L269.4 213.6L270.2 213.7L270.9 213.8L271.7 213.9L272.4 214.0L273.2 214.1L273.9 214.1L274.7 214.2L275.4 214.3L276.2 214.4L276.9 214.4L277.7 214.5L278.4 214.6L279.2 214.7L279.9 214.7L280.7 214.8L281.4 214.9L282.2 214.9L282.9 215.0L283.7 215.0L284.4 215.1L285.2 215.2L285.9 215.2L286.7 215.3L287.4 215.3L288.2 215.4L288.9 215.4L289.7 215.5L290.4 215.6L291.2 215.6L291.9 215.7L292.7 215.7L293.4 215.8L294.2 215.8L294.9 215.9L295.7 215.9L296.4 216.0L297.2 216.0L297.9 216.0L298.7 216.1L299.4 216.1L300.2 216.1L300.9 216.1L301.7 216.0L302.4 216.0L303.2 216.0L303.9 215.9L304.7 215.8L305.4 215.5L306.2 215.1L306.9 214.5L307.7 213.4L308.4 211.5L309.2 209.0L309.9 206.3L310.2 205.3" stroke="#00b4f0"/>
</g>
<path d="M218.82 233.30V139.80" stroke="#1a1a1a" stroke-width="1.2" stroke-dasharray="3.8 4.2" fill="none"/>
</g>
<g>
<rect x="333.71" y="139.50" width="53.64" height="93.80" fill="#ebebeb"/>
<path d="M333.71 139.50V233.30M347.12 139.50V233.30M360.53 139.50V233.30M373.94 139.50V233.30M400.76 139.50V233.30M414.17 139.50V233.30M427.58 139.50V233.30M440.99 139.50V233.30M320.30 227.44H454.40M320.30 221.58H454.40M320.30 209.85H454.40M320.30 203.99H454.40M320.30 198.12H454.40M320.30 192.26H454.40M320.30 180.54H454.40M320.30 174.68H454.40M320.30 168.81H454.40M320.30 162.95H454.40M320.30 151.23H454.40M320.30 145.36H454.40" stroke="#e0e0e0" stroke-width="0.55" stroke-dasharray="1 1.3" fill="none"/>
<path d="M387.35 139.50V233.30M320.30 215.71H454.40M320.30 186.40H454.40M320.30 157.09H454.40" stroke="#dadada" stroke-width="0.7" fill="none"/>
<path d="M387.35 233.30v-1.4M387.35 139.50v1.4M320.30 215.71h1.4M454.40 215.71h-1.4M320.30 186.40h1.4M454.40 186.40h-1.4M320.30 157.09h1.4M454.40 157.09h-1.4" stroke="#555" stroke-width="0.9" fill="none"/>
<rect x="320.30" y="139.50" width="134.10" height="93.80" fill="none" stroke="#707070" stroke-width="1"/>
<g clip-path="url(#cp23)" fill="none" stroke-width="1.65" stroke-linejoin="round" stroke-linecap="round">
<path d="M321.1 236.0L321.9 225.8L322.6 222.0L323.4 219.6L324.1 218.6L324.9 217.9L325.6 217.4L326.4 217.2L327.1 217.0L327.9 216.9L328.6 216.7L329.4 216.5L330.1 216.3L330.9 216.1L331.6 215.9L332.4 215.7L333.1 215.6L333.9 216.0L334.6 216.6L335.4 217.1L336.1 217.6L336.9 217.9L337.6 217.9L338.4 217.8L339.1 217.6L339.9 217.4L340.6 217.2L341.4 216.9L342.1 216.5L342.9 216.1L343.6 215.7L344.4 215.2L345.1 214.6L345.9 214.1L346.6 213.5L347.4 212.8L348.1 212.2L348.9 211.5L349.6 210.8L350.4 210.1L351.1 209.3L351.9 208.6L352.6 207.8L353.4 207.1L354.1 206.3L354.9 205.6L355.6 205.0L356.4 204.3L357.1 203.7L357.9 203.1L358.6 202.5L359.4 202.0L360.1 201.4L360.9 200.9L361.6 200.5L362.4 200.0L363.1 199.6L363.9 199.2L364.6 198.9L365.4 198.6L366.1 198.5L366.9 198.5L367.6 198.6L368.4 198.8L369.1 199.2L369.9 199.7L370.6 200.6L371.4 201.8L372.1 203.3L372.9 205.0L373.6 206.7L374.4 208.3L375.1 209.8L375.9 210.9L376.6 211.7L377.4 212.3L378.1 212.8L378.9 213.1L379.6 213.5L380.4 213.7L381.1 213.9L381.9 214.1L382.6 214.2L383.4 214.3L384.1 214.4L384.9 214.5L385.6 214.6L386.4 214.6L387.1 214.7L387.9 214.8L388.6 214.8L389.4 214.9L390.1 215.0L390.9 215.0L391.6 215.1L392.4 215.1L393.1 215.2L393.9 215.2L394.6 215.3L395.4 215.3L396.1 215.3L396.9 215.4L397.6 215.4L398.4 215.4L399.1 215.4L399.9 215.5L400.6 215.5L401.4 215.5L402.1 215.5L402.9 215.5L403.6 215.6L404.4 215.6L405.1 215.6L405.9 215.6L406.6 215.6L407.4 215.6L408.1 215.7L408.9 215.7L409.6 215.7L410.4 215.7L411.1 215.7L411.9 215.7L412.6 215.7L413.4 215.8L414.1 215.8L414.9 215.8L415.6 215.8L416.4 215.8L417.1 215.8L417.9 215.8L418.6 215.8L419.4 215.8L420.1 215.9L420.9 215.9L421.6 215.9L422.4 215.9L423.1 215.9L423.9 215.9L424.6 215.9L425.4 215.9L426.1 215.9L426.9 216.0L427.6 216.0L428.4 216.0L429.1 216.0L429.9 216.0L430.6 216.0L431.4 216.0L432.1 216.0L432.9 216.0L433.6 216.0L434.4 216.0L435.1 216.1L435.9 216.1L436.6 216.1L437.4 216.1L438.1 216.1L438.9 216.1L439.6 216.1L440.4 216.1L441.1 216.1L441.9 216.1L442.6 216.1L443.4 216.1L444.1 216.1L444.9 216.1L445.6 216.1L446.4 216.1L447.1 216.1L447.9 216.0L448.6 216.0L449.4 215.9L450.1 215.8L450.9 215.7L451.6 215.5L452.4 215.3L452.6 215.2" stroke="#0a0aff"/>
<path d="M321.1 236.0L321.9 225.8L322.6 222.0L323.4 219.6L324.1 218.6L324.9 217.9L325.6 217.4L326.4 217.2L327.1 217.0L327.9 216.9L328.6 216.7L329.4 216.5L330.1 216.3L330.9 216.1L331.6 215.9L332.4 215.7L333.1 215.6L333.9 216.0L334.6 216.6L335.4 217.1L336.1 217.6L336.9 217.9L337.6 217.9L338.4 217.7L339.1 217.5L339.9 217.2L340.6 217.0L341.4 216.6L342.1 216.3L342.9 215.9L343.6 215.4L344.4 214.9L345.1 214.3L345.9 213.6L346.6 212.8L347.4 211.9L348.1 210.8L348.9 209.6L349.6 208.2L350.4 206.9L351.1 205.4L351.9 204.0L352.6 202.6L353.4 201.2L354.1 199.8L354.9 198.4L355.6 196.9L356.4 195.5L357.1 194.1L357.9 192.7L358.6 191.4L359.4 190.2L360.1 189.2L360.9 188.5L361.6 187.9L362.4 187.5L363.1 187.1L363.9 186.8L364.6 186.6L365.4 186.6L366.1 186.7L366.9 186.9L367.6 187.4L368.4 188.0L369.1 188.8L369.9 189.9L370.6 191.4L371.4 193.4L372.1 195.8L372.9 198.4L373.6 201.1L374.4 203.7L375.1 205.9L375.9 207.6L376.6 208.9L377.4 209.9L378.1 210.6L378.9 211.1L379.6 211.6L380.4 212.0L381.1 212.4L381.9 212.6L382.6 212.8L383.4 213.0L384.1 213.2L384.9 213.4L385.6 213.6L386.4 213.8L387.1 213.9L387.9 214.1L388.6 214.2L389.4 214.3L390.1 214.4L390.9 214.5L391.6 214.5L392.4 214.6L393.1 214.7L393.9 214.7L394.6 214.8L395.4 214.8L396.1 214.9L396.9 214.9L397.6 215.0L398.4 215.0L399.1 215.1L399.9 215.1L400.6 215.2L401.4 215.2L402.1 215.3L402.9 215.3L403.6 215.3L404.4 215.4L405.1 215.4L405.9 215.5L406.6 215.5L407.4 215.5L408.1 215.5L408.9 215.6L409.6 215.6L410.4 215.6L411.1 215.6L411.9 215.6L412.6 215.7L413.4 215.7L414.1 215.7L414.9 215.7L415.6 215.7L416.4 215.7L417.1 215.8L417.9 215.8L418.6 215.8L419.4 215.8L420.1 215.8L420.9 215.8L421.6 215.8L422.4 215.9L423.1 215.9L423.9 215.9L424.6 215.9L425.4 215.9L426.1 215.9L426.9 215.9L427.6 216.0L428.4 216.0L429.1 216.0L429.9 216.0L430.6 216.0L431.4 216.0L432.1 216.0L432.9 216.0L433.6 216.0L434.4 216.1L435.1 216.1L435.9 216.1L436.6 216.1L437.4 216.1L438.1 216.1L438.9 216.1L439.6 216.1L440.4 216.1L441.1 216.1L441.9 216.1L442.6 216.1L443.4 216.1L444.1 216.1L444.9 216.1L445.6 216.1L446.4 216.1L447.1 216.0L447.9 216.0L448.6 215.9L449.4 215.8L450.1 215.7L450.9 215.5L451.6 215.3L452.4 215.0L452.6 214.9" stroke="#ff1414"/>
<path d="M321.1 236.0L321.9 225.8L322.6 222.0L323.4 219.6L324.1 218.6L324.9 217.9L325.6 217.4L326.4 217.2L327.1 217.0L327.9 216.9L328.6 216.7L329.4 216.5L330.1 216.3L330.9 216.1L331.6 215.9L332.4 215.7L333.1 215.6L333.9 216.0L334.6 216.6L335.4 217.1L336.1 217.6L336.9 217.9L337.6 217.9L338.4 217.6L339.1 217.4L339.9 217.1L340.6 216.7L341.4 216.3L342.1 215.9L342.9 215.4L343.6 214.9L344.4 214.3L345.1 213.6L345.9 212.8L346.6 211.9L347.4 210.9L348.1 209.7L348.9 208.4L349.6 207.0L350.4 205.5L351.1 203.9L351.9 202.4L352.6 200.8L353.4 199.2L354.1 197.5L354.9 195.9L355.6 194.2L356.4 192.6L357.1 190.9L357.9 189.2L358.6 187.5L359.4 185.9L360.1 184.3L360.9 182.7L361.6 181.2L362.4 179.6L363.1 178.2L363.9 176.8L364.6 175.5L365.4 174.2L366.1 173.1L366.9 172.0L367.6 171.2L368.4 170.6L369.1 170.3L369.9 170.4L370.6 171.1L371.4 172.4L372.1 174.4L372.9 177.3L373.6 181.0L374.4 185.1L375.1 189.4L375.9 193.4L376.6 197.0L377.4 199.8L378.1 202.2L378.9 204.2L379.6 205.8L380.4 207.0L381.1 208.0L381.9 208.9L382.6 209.6L383.4 210.1L384.1 210.6L384.9 211.0L385.6 211.4L386.4 211.7L387.1 212.0L387.9 212.3L388.6 212.6L389.4 212.8L390.1 213.0L390.9 213.2L391.6 213.4L392.4 213.6L393.1 213.8L393.9 213.9L394.6 214.0L395.4 214.1L396.1 214.2L396.9 214.3L397.6 214.4L398.4 214.4L399.1 214.5L399.9 214.6L400.6 214.6L401.4 214.7L402.1 214.7L402.9 214.8L403.6 214.8L404.4 214.9L405.1 214.9L405.9 215.0L406.6 215.0L407.4 215.1L408.1 215.1L408.9 215.1L409.6 215.2L410.4 215.2L411.1 215.2L411.9 215.3L412.6 215.3L413.4 215.3L414.1 215.4L414.9 215.4L415.6 215.4L416.4 215.4L417.1 215.5L417.9 215.5L418.6 215.5L419.4 215.5L420.1 215.6L420.9 215.6L421.6 215.6L422.4 215.7L423.1 215.7L423.9 215.7L424.6 215.7L425.4 215.8L426.1 215.8L426.9 215.8L427.6 215.8L428.4 215.8L429.1 215.9L429.9 215.9L430.6 215.9L431.4 215.9L432.1 216.0L432.9 216.0L433.6 216.0L434.4 216.0L435.1 216.0L435.9 216.0L436.6 216.0L437.4 216.0L438.1 216.1L438.9 216.1L439.6 216.1L440.4 216.1L441.1 216.1L441.9 216.1L442.6 216.1L443.4 216.1L444.1 216.1L444.9 216.1L445.6 216.1L446.4 216.1L447.1 216.0L447.9 216.0L448.6 215.9L449.4 215.7L450.1 215.6L450.9 215.4L451.6 215.1L452.4 214.7L452.6 214.6" stroke="#00a651"/>
<path d="M321.1 236.0L321.9 225.8L322.6 222.0L323.4 219.6L324.1 218.6L324.9 217.9L325.6 217.4L326.4 217.2L327.1 217.0L327.9 216.9L328.6 216.7L329.4 216.5L330.1 216.3L330.9 216.1L331.6 215.9L332.4 215.7L333.1 215.6L333.9 216.0L334.6 216.6L335.4 217.1L336.1 217.6L336.9 217.9L337.6 217.8L338.4 217.6L339.1 217.3L339.9 216.9L340.6 216.5L341.4 216.0L342.1 215.5L342.9 215.0L343.6 214.3L344.4 213.6L345.1 212.8L345.9 211.9L346.6 210.9L347.4 209.7L348.1 208.5L348.9 207.1L349.6 205.6L350.4 204.0L351.1 202.4L351.9 200.8L352.6 199.2L353.4 197.5L354.1 195.8L354.9 194.0L355.6 192.3L356.4 190.5L357.1 188.8L357.9 187.0L358.6 185.2L359.4 183.5L360.1 181.7L360.9 180.0L361.6 178.3L362.4 176.6L363.1 175.1L363.9 173.5L364.6 172.0L365.4 170.5L366.1 169.0L366.9 167.5L367.6 166.0L368.4 164.5L369.1 163.1L369.9 161.9L370.6 161.0L371.4 160.8L372.1 161.4L372.9 162.9L373.6 165.4L374.4 168.5L375.1 172.0L375.9 175.7L376.6 179.3L377.4 182.9L378.1 186.4L378.9 189.9L379.6 193.1L380.4 196.2L381.1 198.9L381.9 201.3L382.6 203.3L383.4 204.9L384.1 206.2L384.9 207.3L385.6 208.3L386.4 209.0L387.1 209.7L387.9 210.3L388.6 210.8L389.4 211.2L390.1 211.6L390.9 211.9L391.6 212.2L392.4 212.4L393.1 212.6L393.9 212.8L394.6 213.0L395.4 213.2L396.1 213.4L396.9 213.5L397.6 213.7L398.4 213.8L399.1 214.0L399.9 214.1L400.6 214.2L401.4 214.3L402.1 214.4L402.9 214.5L403.6 214.5L404.4 214.6L405.1 214.6L405.9 214.7L406.6 214.8L407.4 214.8L408.1 214.9L408.9 214.9L409.6 215.0L410.4 215.0L411.1 215.1L411.9 215.1L412.6 215.1L413.4 215.2L414.1 215.2L414.9 215.3L415.6 215.3L416.4 215.4L417.1 215.4L417.9 215.4L418.6 215.4L419.4 215.5L420.1 215.5L420.9 215.5L421.6 215.5L422.4 215.6L423.1 215.6L423.9 215.6L424.6 215.6L425.4 215.7L426.1 215.7L426.9 215.7L427.6 215.7L428.4 215.7L429.1 215.8L429.9 215.8L430.6 215.8L431.4 215.8L432.1 215.8L432.9 215.9L433.6 215.9L434.4 215.9L435.1 215.9L435.9 215.9L436.6 216.0L437.4 216.0L438.1 216.0L438.9 216.0L439.6 216.1L440.4 216.1L441.1 216.1L441.9 216.1L442.6 216.2L443.4 216.2L444.1 216.2L444.9 216.3L445.6 216.3L446.4 216.3L447.1 216.3L447.9 216.4L448.6 216.4L449.4 216.3L450.1 216.0L450.9 215.6L451.6 215.0L452.4 213.9L452.6 213.5" stroke="#ffa500"/>
<path d="M321.1 236.0L321.9 225.8L322.6 222.0L323.4 219.6L324.1 218.6L324.9 217.9L325.6 217.4L326.4 217.2L327.1 217.0L327.9 216.9L328.6 216.7L329.4 216.5L330.1 216.3L330.9 216.1L331.6 215.9L332.4 215.7L333.1 215.6L333.9 216.0L334.6 216.6L335.4 217.1L336.1 217.6L336.9 217.9L337.6 217.7L338.4 217.3L339.1 216.9L339.9 216.6L340.6 216.1L341.4 215.6L342.1 214.9L342.9 214.2L343.6 213.3L344.4 212.2L345.1 211.0L345.9 209.7L346.6 208.3L347.4 206.7L348.1 205.0L348.9 203.2L349.6 201.2L350.4 199.1L351.1 196.9L351.9 194.7L352.6 192.5L353.4 190.5L354.1 188.6L354.9 186.8L355.6 185.0L356.4 183.1L357.1 181.2L357.9 179.1L358.6 177.1L359.4 175.2L360.1 173.2L360.9 171.4L361.6 169.5L362.4 167.6L363.1 165.8L363.9 164.0L364.6 162.3L365.4 160.7L366.1 159.2L366.9 157.7L367.6 156.2L368.4 154.8L369.1 153.3L369.9 151.9L370.6 150.6L371.4 149.7L372.1 149.2L372.9 149.5L373.6 150.5L374.4 152.1L375.1 154.1L375.9 156.2L376.6 158.3L377.4 160.6L378.1 162.9L378.9 165.2L379.6 167.6L380.4 169.9L381.1 172.2L381.9 174.4L382.6 176.6L383.4 178.9L384.1 181.1L384.9 183.3L385.6 185.5L386.4 187.7L387.1 189.7L387.9 191.7L388.6 193.5L389.4 195.3L390.1 196.9L390.9 198.5L391.6 200.0L392.4 201.4L393.1 202.7L393.9 203.8L394.6 204.8L395.4 205.8L396.1 206.6L396.9 207.3L397.6 208.0L398.4 208.6L399.1 209.1L399.9 209.7L400.6 210.1L401.4 210.6L402.1 211.0L402.9 211.3L403.6 211.6L404.4 211.9L405.1 212.2L405.9 212.4L406.6 212.7L407.4 212.9L408.1 213.1L408.9 213.3L409.6 213.4L410.4 213.5L411.1 213.7L411.9 213.8L412.6 213.9L413.4 214.0L414.1 214.1L414.9 214.2L415.6 214.3L416.4 214.5L417.1 214.6L417.9 214.7L418.6 214.7L419.4 214.8L420.1 214.9L420.9 215.0L421.6 215.1L422.4 215.2L423.1 215.2L423.9 215.3L424.6 215.3L425.4 215.4L426.1 215.4L426.9 215.5L427.6 215.5L428.4 215.6L429.1 215.6L429.9 215.7L430.6 215.7L431.4 215.7L432.1 215.8L432.9 215.8L433.6 215.8L434.4 215.9L435.1 215.9L435.9 215.9L436.6 215.9L437.4 216.0L438.1 216.0L438.9 216.0L439.6 216.0L440.4 216.0L441.1 216.0L441.9 216.0L442.6 216.0L443.4 216.0L444.1 216.0L444.9 216.0L445.6 215.9L446.4 215.9L447.1 215.7L447.9 215.5L448.6 215.2L449.4 214.8L450.1 214.3L450.9 213.0L451.6 211.2L452.4 208.3L452.6 207.0" stroke="#00b4f0"/>
</g>
<path d="M360.53 233.30V139.80" stroke="#1a1a1a" stroke-width="1.2" stroke-dasharray="3.8 4.2" fill="none"/>
</g>
<g>
<rect x="51.64" y="249.90" width="52.96" height="94.20" fill="#ebebeb"/>
<path d="M51.64 249.90V344.10M64.88 249.90V344.10M78.12 249.90V344.10M91.36 249.90V344.10M117.84 249.90V344.10M131.08 249.90V344.10M144.32 249.90V344.10M157.56 249.90V344.10M38.40 336.25H170.80M38.40 328.40H170.80M38.40 320.55H170.80M38.40 312.70H170.80M38.40 297.00H170.80M38.40 289.15H170.80M38.40 281.30H170.80M38.40 273.45H170.80M38.40 257.75H170.80" stroke="#e0e0e0" stroke-width="0.55" stroke-dasharray="1 1.3" fill="none"/>
<path d="M104.60 249.90V344.10M38.40 304.85H170.80M38.40 265.60H170.80" stroke="#dadada" stroke-width="0.7" fill="none"/>
<path d="M104.60 344.10v-1.4M104.60 249.90v1.4M38.40 304.85h1.4M170.80 304.85h-1.4M38.40 265.60h1.4M170.80 265.60h-1.4" stroke="#555" stroke-width="0.9" fill="none"/>
<rect x="38.40" y="249.90" width="132.40" height="94.20" fill="none" stroke="#707070" stroke-width="1"/>
<g clip-path="url(#cp31)" fill="none" stroke-width="1.65" stroke-linejoin="round" stroke-linecap="round">
<path d="M38.6 325.7L38.9 319.3L39.6 318.0L40.4 317.0L41.1 316.2L41.9 315.6L42.6 315.0L43.4 314.5L44.1 314.1L44.9 313.6L45.6 313.3L46.4 313.0L47.1 312.6L47.9 312.3L48.6 312.0L49.4 311.7L50.1 311.4L50.9 311.0L51.6 310.6L52.4 310.2L53.1 309.8L53.9 309.4L54.6 308.9L55.4 308.5L56.1 308.1L56.9 307.7L57.6 307.2L58.4 306.8L59.1 306.3L59.9 305.9L60.6 305.4L61.4 305.0L62.1 304.6L62.9 304.1L63.6 303.7L64.4 303.2L65.2 302.8L65.9 302.3L66.7 301.9L67.4 301.4L68.2 301.0L68.9 300.6L69.7 300.1L70.4 299.7L71.2 299.3L71.9 298.9L72.7 298.6L73.4 298.3L74.2 298.1L74.9 297.9L75.7 297.8L76.4 297.7L77.2 297.8L77.9 298.1L78.7 298.5L79.4 299.1L80.2 299.8L80.9 300.5L81.7 301.4L82.4 302.5L83.2 303.6L83.9 304.8L84.7 306.2L85.4 307.7L86.2 309.1L86.9 310.5L87.7 311.9L88.4 313.2L89.2 314.4L89.9 315.5L90.7 316.5L91.4 317.4L92.2 318.1L92.9 318.8L93.7 319.4L94.4 319.9L95.2 320.4L95.9 320.9L96.7 321.3L97.4 321.7L98.2 322.1L98.9 322.4L99.7 322.6L100.4 322.9L101.2 323.1L101.9 323.3L102.7 323.6L103.4 323.8L104.2 324.0L104.9 324.2L105.7 324.4L106.4 324.6L107.2 324.8L107.9 325.0L108.7 325.2L109.4 325.4L110.2 325.6L110.9 325.8L111.7 326.0L112.4 326.2L113.2 326.4L113.9 326.6L114.7 326.7L115.4 326.9L116.2 327.1L116.9 327.3L117.7 327.4L118.4 327.6L119.2 327.8L119.9 327.9L120.7 328.1L121.4 328.2L122.2 328.4L122.9 328.5L123.7 328.6L124.4 328.7L125.2 328.9L125.9 329.0L126.7 329.1L127.4 329.2L128.2 329.3L128.9 329.3L129.7 329.4L130.4 329.5L131.2 329.6L131.9 329.6L132.7 329.7L133.4 329.7L134.2 329.8L134.9 329.9L135.7 329.9L136.4 330.0L137.2 330.0L137.9 330.1L138.7 330.1L139.4 330.2L140.2 330.2L140.9 330.2L141.7 330.3L142.4 330.3L143.2 330.3L143.9 330.4L144.7 330.4L145.4 330.4L146.2 330.5L146.9 330.5L147.7 330.5L148.4 330.6L149.2 330.6L149.9 330.6L150.7 330.7L151.4 330.7L152.2 330.7L152.9 330.7L153.7 330.8L154.4 330.8L155.2 330.8L155.9 330.9L156.7 330.9L157.4 330.9L158.2 330.9L158.9 331.0L159.7 331.0L160.4 331.0L161.2 331.0L161.9 331.1L162.7 331.1L163.4 331.1L164.2 331.1L164.9 331.1L165.7 331.2L166.4 331.2L167.2 331.2L167.9 331.4L168.7 331.8L169.4 332.4L170.2 333.4L170.7 334.3" stroke="#0a0aff"/>
<path d="M38.6 320.0L38.8 312.3L39.5 310.2L40.3 309.3L41.0 308.7L41.8 308.1L42.5 307.5L43.3 307.0L44.0 306.5L44.8 306.0L45.5 305.5L46.3 305.1L47.0 304.6L47.8 304.2L48.5 303.8L49.3 303.3L50.0 302.9L50.8 302.4L51.5 301.9L52.3 301.4L53.0 300.9L53.8 300.4L54.5 299.9L55.3 299.4L56.0 298.8L56.8 298.2L57.5 297.7L58.3 297.0L59.0 296.4L59.8 295.7L60.5 295.0L61.3 294.3L62.0 293.6L62.8 292.9L63.5 292.2L64.3 291.5L65.0 290.8L65.8 290.2L66.5 289.6L67.3 289.0L68.0 288.5L68.8 287.9L69.5 287.4L70.3 286.9L71.0 286.4L71.8 286.0L72.5 285.6L73.3 285.3L74.0 285.1L74.8 285.0L75.5 284.9L76.3 285.1L77.0 285.5L77.8 286.2L78.5 287.2L79.3 288.4L80.0 289.8L80.8 291.2L81.5 292.8L82.3 294.4L83.0 296.1L83.8 297.9L84.5 299.8L85.3 301.7L86.0 303.7L86.8 305.6L87.5 307.5L88.3 309.3L89.0 311.0L89.8 312.6L90.5 314.0L91.3 315.3L92.0 316.3L92.8 317.2L93.5 318.0L94.3 318.7L95.0 319.2L95.8 319.7L96.5 320.2L97.3 320.6L98.0 320.9L98.8 321.2L99.5 321.5L100.3 321.8L101.0 322.1L101.8 322.4L102.5 322.6L103.3 322.9L104.0 323.2L104.8 323.4L105.5 323.7L106.3 323.9L107.0 324.1L107.8 324.3L108.5 324.6L109.3 324.8L110.0 325.0L110.8 325.2L111.5 325.4L112.3 325.6L113.0 325.8L113.8 326.1L114.5 326.3L115.3 326.5L116.0 326.6L116.8 326.8L117.5 327.0L118.3 327.2L119.0 327.3L119.8 327.5L120.5 327.7L121.3 327.8L122.0 328.0L122.8 328.1L123.5 328.3L124.3 328.4L125.0 328.5L125.8 328.7L126.5 328.8L127.3 328.9L128.1 329.0L128.8 329.1L129.6 329.2L130.3 329.3L131.1 329.4L131.8 329.4L132.6 329.5L133.3 329.6L134.1 329.6L134.8 329.7L135.6 329.7L136.3 329.8L137.1 329.9L137.8 329.9L138.6 330.0L139.3 330.0L140.1 330.1L140.8 330.1L141.6 330.2L142.3 330.2L143.1 330.2L143.8 330.3L144.6 330.3L145.3 330.3L146.1 330.4L146.8 330.4L147.6 330.4L148.3 330.5L149.1 330.5L149.8 330.5L150.6 330.5L151.3 330.6L152.1 330.6L152.8 330.6L153.6 330.7L154.3 330.7L155.1 330.7L155.8 330.8L156.6 330.8L157.3 330.8L158.1 330.8L158.8 330.9L159.6 330.9L160.3 330.9L161.1 330.9L161.8 330.9L162.6 331.0L163.3 331.0L164.1 331.0L164.8 331.0L165.6 331.1L166.3 331.1L167.1 331.1L167.8 331.3L168.6 331.6L169.3 332.1L170.1 333.0L170.8 334.4" stroke="#ff1414"/>
<path d="M38.6 313.6L38.9 304.7L39.6 302.9L40.4 301.6L41.1 300.9L41.9 300.3L42.6 299.6L43.4 298.9L44.1 298.3L44.9 297.6L45.6 297.0L46.4 296.3L47.1 295.6L47.9 295.0L48.6 294.3L49.4 293.7L50.1 293.0L50.9 292.4L51.6 291.7L52.4 291.1L53.1 290.4L53.9 289.7L54.6 289.1L55.4 288.4L56.1 287.7L56.9 287.1L57.6 286.4L58.4 285.7L59.1 285.0L59.9 284.3L60.6 283.6L61.4 282.9L62.1 282.2L62.9 281.4L63.6 280.7L64.4 280.0L65.2 279.2L65.9 278.5L66.7 277.7L67.4 277.0L68.2 276.4L68.9 275.8L69.7 275.4L70.4 275.0L71.2 274.8L71.9 274.6L72.7 274.5L73.4 274.4L74.2 274.4L74.9 274.4L75.7 274.6L76.4 274.8L77.2 275.2L77.9 275.8L78.7 276.5L79.4 277.5L80.2 278.6L80.9 280.0L81.7 281.5L82.4 283.2L83.2 285.0L83.9 287.0L84.7 289.1L85.4 291.3L86.2 293.7L86.9 296.2L87.7 298.6L88.4 301.0L89.2 303.3L89.9 305.5L90.7 307.6L91.4 309.6L92.2 311.4L92.9 313.0L93.7 314.3L94.4 315.5L95.2 316.5L95.9 317.3L96.7 318.0L97.4 318.6L98.2 319.1L98.9 319.7L99.7 320.1L100.4 320.6L101.2 321.0L101.9 321.4L102.7 321.7L103.4 322.1L104.2 322.4L104.9 322.8L105.7 323.0L106.4 323.3L107.2 323.6L107.9 323.9L108.7 324.1L109.4 324.4L110.2 324.6L110.9 324.8L111.7 325.1L112.4 325.3L113.2 325.5L113.9 325.7L114.7 326.0L115.4 326.2L116.2 326.4L116.9 326.5L117.7 326.7L118.4 326.9L119.2 327.1L119.9 327.2L120.7 327.4L121.4 327.6L122.2 327.7L122.9 327.9L123.7 328.0L124.4 328.1L125.2 328.3L125.9 328.4L126.7 328.5L127.4 328.7L128.2 328.8L128.9 328.9L129.7 329.0L130.4 329.1L131.2 329.2L131.9 329.2L132.7 329.3L133.4 329.4L134.2 329.5L134.9 329.5L135.7 329.6L136.4 329.7L137.2 329.7L137.9 329.8L138.7 329.9L139.4 329.9L140.2 330.0L140.9 330.0L141.7 330.1L142.4 330.1L143.2 330.1L143.9 330.2L144.7 330.2L145.4 330.2L146.2 330.3L146.9 330.3L147.7 330.3L148.4 330.4L149.2 330.4L149.9 330.4L150.7 330.5L151.4 330.5L152.2 330.5L152.9 330.5L153.7 330.6L154.4 330.6L155.2 330.6L155.9 330.7L156.7 330.7L157.4 330.7L158.2 330.7L158.9 330.8L159.7 330.8L160.4 330.8L161.2 330.8L161.9 330.9L162.7 330.9L163.4 330.9L164.2 330.9L164.9 330.9L165.7 331.0L166.4 331.0L167.2 331.0L167.9 331.2L168.7 331.6L169.4 332.1L170.2 333.0L170.7 333.9" stroke="#00a651"/>
<path d="M38.6 309.8L38.9 300.8L39.6 299.7L40.4 298.6L41.1 297.6L41.9 296.8L42.6 296.0L43.4 295.2L44.1 294.4L44.9 293.7L45.6 292.9L46.4 292.2L47.1 291.5L47.9 290.8L48.6 290.1L49.4 289.4L50.1 288.7L50.9 288.0L51.6 287.4L52.4 286.7L53.1 286.0L53.9 285.3L54.6 284.6L55.4 283.9L56.1 283.1L56.9 282.4L57.6 281.6L58.4 280.9L59.1 280.1L59.9 279.3L60.6 278.6L61.4 277.8L62.1 277.0L62.9 276.3L63.6 275.5L64.4 274.8L65.2 274.0L65.9 273.3L66.7 272.5L67.4 271.8L68.2 271.1L68.9 270.5L69.7 270.0L70.4 269.5L71.2 269.2L71.9 268.9L72.7 268.7L73.4 268.5L74.2 268.4L74.9 268.3L75.7 268.3L76.4 268.5L77.2 268.7L77.9 269.1L78.7 269.6L79.4 270.2L80.2 271.0L80.9 271.9L81.7 273.0L82.4 274.2L83.2 275.7L83.9 277.3L84.7 279.1L85.4 281.1L86.2 283.2L86.9 285.5L87.7 287.9L88.4 290.5L89.2 293.0L89.9 295.6L90.7 298.1L91.4 300.6L92.2 303.0L92.9 305.2L93.7 307.3L94.4 309.2L95.2 310.8L95.9 312.2L96.7 313.4L97.4 314.5L98.2 315.5L98.9 316.5L99.7 317.3L100.4 318.0L101.2 318.6L101.9 319.2L102.7 319.6L103.4 320.1L104.2 320.5L104.9 320.9L105.7 321.3L106.4 321.7L107.2 322.1L107.9 322.4L108.7 322.8L109.4 323.1L110.2 323.5L110.9 323.8L111.7 324.2L112.4 324.5L113.2 324.8L113.9 325.1L114.7 325.3L115.4 325.6L116.2 325.8L116.9 326.1L117.7 326.3L118.4 326.5L119.2 326.7L119.9 326.9L120.7 327.0L121.4 327.2L122.2 327.4L122.9 327.5L123.7 327.7L124.4 327.8L125.2 328.0L125.9 328.1L126.7 328.2L127.4 328.3L128.2 328.5L128.9 328.6L129.7 328.7L130.4 328.8L131.2 328.9L131.9 328.9L132.7 329.0L133.4 329.1L134.2 329.2L134.9 329.2L135.7 329.3L136.4 329.4L137.2 329.5L137.9 329.5L138.7 329.6L139.4 329.7L140.2 329.7L140.9 329.8L141.7 329.8L142.4 329.9L143.2 329.9L143.9 330.0L144.7 330.0L145.4 330.1L146.2 330.1L146.9 330.1L147.7 330.2L148.4 330.2L149.2 330.2L149.9 330.3L150.7 330.3L151.4 330.3L152.2 330.4L152.9 330.4L153.7 330.4L154.4 330.5L155.2 330.5L155.9 330.5L156.7 330.6L157.4 330.6L158.2 330.6L158.9 330.7L159.7 330.7L160.4 330.7L161.2 330.7L161.9 330.8L162.7 330.8L163.4 330.8L164.2 330.8L164.9 330.8L165.7 330.8L166.4 330.9L167.2 330.9L167.9 331.0L168.7 331.4L169.4 332.0L170.2 332.9L170.7 333.7" stroke="#ffa500"/>
<path d="M38.6 300.0L38.8 286.0L39.5 287.0L40.3 287.4L41.0 287.0L41.8 286.4L42.5 285.8L43.3 285.1L44.0 284.4L44.8 283.7L45.5 282.9L46.3 282.2L47.0 281.4L47.8 280.7L48.5 279.9L49.3 279.2L50.0 278.5L50.8 277.7L51.5 276.9L52.3 276.2L53.0 275.4L53.8 274.7L54.5 273.9L55.3 273.2L56.0 272.3L56.8 271.5L57.5 270.6L58.3 269.7L59.0 268.7L59.8 267.8L60.5 266.8L61.3 265.9L62.0 264.9L62.8 264.0L63.5 263.1L64.3 262.2L65.0 261.3L65.8 260.4L66.5 259.5L67.3 258.6L68.0 257.8L68.8 257.0L69.5 256.3L70.3 255.6L71.0 255.0L71.8 254.6L72.5 254.2L73.3 253.9L74.0 253.7L74.8 253.6L75.5 253.7L76.3 253.9L77.0 254.2L77.8 254.7L78.5 255.3L79.3 255.9L80.0 256.6L80.8 257.4L81.5 258.3L82.3 259.2L83.0 260.2L83.8 261.3L84.5 262.5L85.3 263.7L86.0 265.0L86.8 266.4L87.5 267.8L88.3 269.2L89.0 270.7L89.8 272.2L90.5 273.8L91.3 275.4L92.0 277.1L92.8 278.8L93.5 280.5L94.3 282.2L95.0 283.9L95.8 285.6L96.5 287.2L97.3 288.9L98.0 290.6L98.8 292.3L99.5 293.8L100.3 295.4L101.0 296.8L101.8 298.1L102.5 299.4L103.3 300.6L104.0 301.8L104.8 302.9L105.5 304.0L106.3 305.2L107.0 306.3L107.8 307.4L108.5 308.5L109.3 309.6L110.0 310.7L110.8 311.6L111.5 312.5L112.3 313.3L113.0 314.0L113.8 314.6L114.5 315.2L115.3 315.8L116.0 316.3L116.8 316.7L117.5 317.2L118.3 317.5L119.0 317.9L119.8 318.2L120.5 318.5L121.3 318.8L122.0 319.0L122.8 319.3L123.5 319.5L124.3 319.7L125.0 319.9L125.8 320.1L126.5 320.3L127.3 320.5L128.1 320.7L128.8 320.8L129.6 321.0L130.3 321.1L131.1 321.2L131.8 321.3L132.6 321.4L133.3 321.5L134.1 321.6L134.8 321.7L135.6 321.8L136.3 321.9L137.1 321.9L137.8 322.0L138.6 322.1L139.3 322.2L140.1 322.2L140.8 322.3L141.6 322.3L142.3 322.4L143.1 322.4L143.8 322.5L144.6 322.5L145.3 322.5L146.1 322.6L146.8 322.6L147.6 322.6L148.3 322.7L149.1 322.7L149.8 322.7L150.6 322.7L151.3 322.7L152.1 322.8L152.8 322.8L153.6 322.8L154.3 322.8L155.1 322.8L155.8 322.9L156.6 322.9L157.3 322.9L158.1 322.9L158.8 322.9L159.6 322.9L160.3 322.9L161.1 322.9L161.8 322.9L162.6 322.9L163.3 322.9L164.1 322.9L164.8 322.9L165.6 323.0L166.3 323.4L167.1 323.8L167.8 324.4L168.6 325.4L169.3 327.1L170.1 329.4L170.8 333.0" stroke="#00b4f0"/>
</g>
<path d="M78.12 344.10V250.20" stroke="#1a1a1a" stroke-width="1.2" stroke-dasharray="3.8 4.2" fill="none"/>
</g>
<g>
<rect x="192.32" y="249.90" width="53.28" height="94.20" fill="#ebebeb"/>
<path d="M192.32 249.90V344.10M205.64 249.90V344.10M218.96 249.90V344.10M232.28 249.90V344.10M258.92 249.90V344.10M272.24 249.90V344.10M285.56 249.90V344.10M298.88 249.90V344.10M179.00 336.25H312.20M179.00 328.40H312.20M179.00 320.55H312.20M179.00 312.70H312.20M179.00 297.00H312.20M179.00 289.15H312.20M179.00 281.30H312.20M179.00 273.45H312.20M179.00 257.75H312.20" stroke="#e0e0e0" stroke-width="0.55" stroke-dasharray="1 1.3" fill="none"/>
<path d="M245.60 249.90V344.10M179.00 304.85H312.20M179.00 265.60H312.20" stroke="#dadada" stroke-width="0.7" fill="none"/>
<path d="M245.60 344.10v-1.4M245.60 249.90v1.4M179.00 304.85h1.4M312.20 304.85h-1.4M179.00 265.60h1.4M312.20 265.60h-1.4" stroke="#555" stroke-width="0.9" fill="none"/>
<rect x="179.00" y="249.90" width="133.20" height="94.20" fill="none" stroke="#707070" stroke-width="1"/>
<g clip-path="url(#cp32)" fill="none" stroke-width="1.65" stroke-linejoin="round" stroke-linecap="round">
<path d="M178.8 327.7L179.6 324.6L180.3 323.6L181.1 322.8L181.8 322.2L182.6 321.9L183.3 321.6L184.1 321.2L184.8 320.9L185.6 320.7L186.3 320.4L187.1 320.1L187.8 319.7L188.6 319.4L189.3 319.1L190.1 318.7L190.8 318.4L191.6 318.0L192.3 317.7L193.1 317.3L193.8 316.9L194.6 316.5L195.3 316.1L196.1 315.7L196.8 315.2L197.6 314.8L198.3 314.3L199.1 313.8L199.8 313.4L200.6 312.9L201.3 312.4L202.1 312.0L202.8 311.5L203.6 311.1L204.3 310.6L205.1 310.2L205.8 309.7L206.6 309.3L207.3 308.9L208.1 308.4L208.8 308.0L209.6 307.7L210.3 307.3L211.1 307.0L211.8 306.7L212.6 306.4L213.3 306.1L214.1 305.8L214.8 305.6L215.6 305.3L216.3 305.2L217.1 305.1L217.8 305.0L218.6 305.0L219.3 305.1L220.1 305.3L220.8 305.6L221.6 306.2L222.3 307.0L223.1 308.0L223.8 309.0L224.6 310.2L225.3 311.3L226.1 312.5L226.8 313.6L227.6 314.7L228.3 315.8L229.1 316.9L229.8 317.9L230.6 318.9L231.3 319.9L232.1 320.7L232.8 321.4L233.6 322.0L234.3 322.6L235.1 323.1L235.8 323.5L236.6 324.0L237.3 324.3L238.1 324.7L238.8 325.0L239.6 325.3L240.3 325.5L241.1 325.7L241.8 325.9L242.6 326.1L243.3 326.3L244.1 326.5L244.8 326.7L245.6 326.9L246.3 327.1L247.1 327.2L247.8 327.4L248.6 327.6L249.3 327.8L250.1 328.0L250.8 328.1L251.6 328.3L252.3 328.5L253.1 328.6L253.8 328.8L254.6 329.0L255.3 329.1L256.1 329.3L256.8 329.4L257.6 329.6L258.3 329.7L259.1 329.8L259.8 330.0L260.6 330.1L261.3 330.2L262.1 330.3L262.8 330.4L263.6 330.5L264.3 330.6L265.1 330.7L265.8 330.7L266.6 330.8L267.3 330.9L268.1 331.0L268.8 331.0L269.6 331.1L270.3 331.1L271.1 331.2L271.8 331.2L272.6 331.3L273.3 331.3L274.1 331.3L274.8 331.4L275.6 331.4L276.3 331.5L277.1 331.5L277.8 331.6L278.6 331.6L279.3 331.6L280.1 331.7L280.8 331.7L281.6 331.8L282.3 331.8L283.1 331.8L283.8 331.9L284.6 331.9L285.3 331.9L286.1 332.0L286.8 332.0L287.6 332.1L288.3 332.1L289.1 332.1L289.8 332.2L290.6 332.2L291.3 332.2L292.1 332.3L292.8 332.3L293.6 332.3L294.3 332.4L295.1 332.4L295.8 332.4L296.6 332.5L297.3 332.5L298.1 332.5L298.8 332.6L299.6 332.6L300.3 332.6L301.1 332.6L301.8 332.6L302.6 332.6L303.3 332.6L304.1 332.6L304.8 332.6L305.6 332.6L306.3 332.7L307.1 332.7L307.8 332.7L308.6 332.7L309.3 332.8L310.1 333.2L310.8 333.8L311.6 335.1" stroke="#0a0aff"/>
<path d="M178.8 321.9L179.6 317.0L180.3 316.1L181.1 315.3L181.8 314.7L182.6 314.1L183.3 313.6L184.1 313.1L184.8 312.6L185.6 312.0L186.3 311.5L187.1 311.0L187.8 310.5L188.6 310.0L189.3 309.4L190.1 308.9L190.8 308.4L191.6 307.9L192.3 307.3L193.1 306.8L193.8 306.3L194.6 305.8L195.3 305.2L196.1 304.7L196.8 304.2L197.6 303.6L198.3 303.1L199.1 302.6L199.8 302.0L200.6 301.5L201.3 300.9L202.1 300.4L202.8 299.9L203.6 299.3L204.3 298.8L205.1 298.2L205.8 297.7L206.6 297.1L207.3 296.5L208.1 295.8L208.8 295.2L209.6 294.5L210.3 293.8L211.1 293.1L211.8 292.5L212.6 292.0L213.3 291.6L214.1 291.3L214.8 291.1L215.6 291.0L216.3 291.1L217.1 291.4L217.8 291.8L218.6 292.4L219.3 293.1L220.1 294.1L220.8 295.1L221.6 296.3L222.3 297.6L223.1 299.0L223.8 300.5L224.6 302.1L225.3 303.7L226.1 305.4L226.8 307.2L227.6 309.0L228.3 310.7L229.1 312.3L229.8 313.9L230.6 315.4L231.3 316.7L232.1 318.0L232.8 319.1L233.6 320.0L234.3 320.9L235.1 321.5L235.8 322.1L236.6 322.6L237.3 323.1L238.1 323.5L238.8 323.9L239.6 324.2L240.3 324.5L241.1 324.8L241.8 325.0L242.6 325.2L243.3 325.4L244.1 325.6L244.8 325.8L245.6 326.0L246.3 326.2L247.1 326.4L247.8 326.6L248.6 326.8L249.3 327.0L250.1 327.2L250.8 327.4L251.6 327.6L252.3 327.8L253.1 328.0L253.8 328.2L254.6 328.4L255.3 328.6L256.1 328.8L256.8 329.0L257.6 329.2L258.3 329.4L259.1 329.6L259.8 329.7L260.6 329.9L261.3 330.1L262.1 330.2L262.8 330.3L263.6 330.4L264.3 330.5L265.1 330.6L265.8 330.7L266.6 330.8L267.3 330.8L268.1 330.9L268.8 330.9L269.6 331.0L270.3 331.0L271.1 331.1L271.8 331.1L272.6 331.2L273.3 331.2L274.1 331.2L274.8 331.3L275.6 331.3L276.3 331.4L277.1 331.4L277.8 331.4L278.6 331.5L279.3 331.5L280.1 331.6L280.8 331.6L281.6 331.6L282.3 331.7L283.1 331.7L283.8 331.8L284.6 331.8L285.3 331.9L286.1 331.9L286.8 331.9L287.6 332.0L288.3 332.0L289.1 332.1L289.8 332.1L290.6 332.1L291.3 332.2L292.1 332.2L292.8 332.3L293.6 332.3L294.3 332.3L295.1 332.4L295.8 332.4L296.6 332.5L297.3 332.5L298.1 332.5L298.8 332.6L299.6 332.6L300.3 332.6L301.1 332.6L301.8 332.6L302.6 332.6L303.3 332.6L304.1 332.6L304.8 332.6L305.6 332.6L306.3 332.6L307.1 332.6L307.8 332.6L308.6 332.6L309.3 332.7L310.1 333.1L310.8 333.7L311.6 335.0" stroke="#ff1414"/>
<path d="M178.8 317.4L179.6 311.2L180.3 310.2L181.1 309.3L181.8 308.5L182.6 307.8L183.3 307.1L184.1 306.4L184.8 305.7L185.6 305.0L186.3 304.3L187.1 303.6L187.8 303.0L188.6 302.3L189.3 301.8L190.1 301.2L190.8 300.7L191.6 300.2L192.3 299.7L193.1 299.1L193.8 298.6L194.6 298.0L195.3 297.4L196.1 296.7L196.8 296.0L197.6 295.2L198.3 294.5L199.1 293.7L199.8 292.9L200.6 292.1L201.3 291.3L202.1 290.5L202.8 289.7L203.6 288.9L204.3 288.0L205.1 287.2L205.8 286.4L206.6 285.6L207.3 284.8L208.1 284.0L208.8 283.4L209.6 282.8L210.3 282.4L211.1 282.1L211.8 281.8L212.6 281.6L213.3 281.4L214.1 281.3L214.8 281.3L215.6 281.3L216.3 281.4L217.1 281.6L217.8 281.9L218.6 282.3L219.3 282.8L220.1 283.5L220.8 284.3L221.6 285.4L222.3 286.7L223.1 288.3L223.8 290.0L224.6 292.0L225.3 294.0L226.1 296.1L226.8 298.1L227.6 300.2L228.3 302.3L229.1 304.3L229.8 306.3L230.6 308.3L231.3 310.1L232.1 311.8L232.8 313.5L233.6 315.0L234.3 316.4L235.1 317.7L235.8 318.8L236.6 319.7L237.3 320.5L238.1 321.2L238.8 321.8L239.6 322.3L240.3 322.7L241.1 323.1L241.8 323.5L242.6 323.8L243.3 324.1L244.1 324.4L244.8 324.7L245.6 324.9L246.3 325.2L247.1 325.5L247.8 325.7L248.6 326.0L249.3 326.3L250.1 326.5L250.8 326.8L251.6 327.0L252.3 327.3L253.1 327.5L253.8 327.8L254.6 328.0L255.3 328.2L256.1 328.5L256.8 328.7L257.6 328.9L258.3 329.1L259.1 329.2L259.8 329.4L260.6 329.6L261.3 329.7L262.1 329.9L262.8 330.0L263.6 330.1L264.3 330.2L265.1 330.3L265.8 330.4L266.6 330.5L267.3 330.6L268.1 330.7L268.8 330.8L269.6 330.8L270.3 330.9L271.1 331.0L271.8 331.0L272.6 331.1L273.3 331.1L274.1 331.2L274.8 331.2L275.6 331.3L276.3 331.3L277.1 331.4L277.8 331.4L278.6 331.5L279.3 331.5L280.1 331.6L280.8 331.6L281.6 331.6L282.3 331.7L283.1 331.7L283.8 331.8L284.6 331.8L285.3 331.8L286.1 331.9L286.8 331.9L287.6 332.0L288.3 332.0L289.1 332.0L289.8 332.1L290.6 332.1L291.3 332.1L292.1 332.2L292.8 332.2L293.6 332.2L294.3 332.3L295.1 332.3L295.8 332.3L296.6 332.4L297.3 332.4L298.1 332.4L298.8 332.5L299.6 332.5L300.3 332.5L301.1 332.5L301.8 332.5L302.6 332.5L303.3 332.5L304.1 332.5L304.8 332.5L305.6 332.5L306.3 332.6L307.1 332.6L307.8 332.6L308.6 332.6L309.3 332.7L310.1 333.1L310.8 333.6L311.6 334.9" stroke="#00a651"/>
<path d="M178.8 311.7L179.6 305.7L180.3 304.9L181.1 304.1L181.8 303.3L182.6 302.6L183.3 301.9L184.1 301.2L184.8 300.5L185.6 299.9L186.3 299.2L187.1 298.6L187.8 297.9L188.6 297.2L189.3 296.5L190.1 295.9L190.8 295.2L191.6 294.5L192.3 293.8L193.1 293.1L193.8 292.4L194.6 291.7L195.3 291.0L196.1 290.2L196.8 289.4L197.6 288.6L198.3 287.8L199.1 286.9L199.8 286.0L200.6 285.2L201.3 284.3L202.1 283.5L202.8 282.6L203.6 281.7L204.3 280.8L205.1 279.9L205.8 279.0L206.6 278.1L207.3 277.2L208.1 276.4L208.8 275.7L209.6 275.1L210.3 274.5L211.1 274.1L211.8 273.7L212.6 273.5L213.3 273.3L214.1 273.2L214.8 273.1L215.6 273.1L216.3 273.2L217.1 273.4L217.8 273.7L218.6 274.1L219.3 274.6L220.1 275.2L220.8 275.9L221.6 276.7L222.3 277.7L223.1 278.9L223.8 280.3L224.6 282.0L225.3 283.7L226.1 285.6L226.8 287.6L227.6 289.5L228.3 291.5L229.1 293.6L229.8 295.7L230.6 297.9L231.3 300.2L232.1 302.5L232.8 304.9L233.6 307.1L234.3 309.2L235.1 311.2L235.8 312.9L236.6 314.4L237.3 315.8L238.1 317.1L238.8 318.2L239.6 319.1L240.3 319.8L241.1 320.4L241.8 320.9L242.6 321.4L243.3 321.8L244.1 322.2L244.8 322.6L245.6 323.0L246.3 323.3L247.1 323.7L247.8 324.1L248.6 324.5L249.3 324.9L250.1 325.2L250.8 325.6L251.6 326.0L252.3 326.3L253.1 326.7L253.8 327.0L254.6 327.3L255.3 327.6L256.1 327.9L256.8 328.1L257.6 328.3L258.3 328.6L259.1 328.7L259.8 328.9L260.6 329.1L261.3 329.3L262.1 329.4L262.8 329.6L263.6 329.7L264.3 329.9L265.1 330.0L265.8 330.1L266.6 330.2L267.3 330.3L268.1 330.4L268.8 330.5L269.6 330.6L270.3 330.7L271.1 330.8L271.8 330.8L272.6 330.9L273.3 330.9L274.1 331.0L274.8 331.1L275.6 331.1L276.3 331.2L277.1 331.2L277.8 331.3L278.6 331.3L279.3 331.4L280.1 331.4L280.8 331.5L281.6 331.5L282.3 331.6L283.1 331.6L283.8 331.7L284.6 331.7L285.3 331.8L286.1 331.8L286.8 331.8L287.6 331.9L288.3 331.9L289.1 332.0L289.8 332.0L290.6 332.1L291.3 332.1L292.1 332.1L292.8 332.2L293.6 332.2L294.3 332.3L295.1 332.3L295.8 332.3L296.6 332.4L297.3 332.4L298.1 332.4L298.8 332.5L299.6 332.5L300.3 332.5L301.1 332.5L301.8 332.5L302.6 332.5L303.3 332.5L304.1 332.5L304.8 332.5L305.6 332.5L306.3 332.5L307.1 332.5L307.8 332.5L308.6 332.5L309.3 332.6L310.1 332.8L310.8 333.2L311.6 334.5" stroke="#ffa500"/>
<path d="M178.7 303.4L179.4 292.4L180.2 293.0L180.9 292.7L181.7 292.1L182.4 291.6L183.2 290.9L183.9 290.2L184.7 289.5L185.4 288.7L186.2 288.0L186.9 287.2L187.7 286.5L188.4 285.7L189.2 285.0L189.9 284.2L190.7 283.5L191.4 282.7L192.2 282.0L192.9 281.2L193.7 280.5L194.4 279.7L195.2 278.9L195.9 278.1L196.7 277.2L197.4 276.3L198.2 275.2L198.9 274.2L199.7 273.2L200.4 272.1L201.2 271.1L201.9 270.2L202.7 269.2L203.4 268.3L204.2 267.4L204.9 266.5L205.7 265.6L206.4 264.7L207.2 263.8L207.9 263.0L208.7 262.2L209.4 261.5L210.2 260.9L210.9 260.3L211.7 259.8L212.4 259.4L213.2 259.0L213.9 258.7L214.7 258.5L215.4 258.3L216.2 258.3L216.9 258.4L217.7 258.6L218.4 259.0L219.2 259.5L219.9 260.0L220.7 260.7L221.4 261.4L222.2 262.2L222.9 263.1L223.7 264.1L224.4 265.1L225.2 266.2L225.9 267.4L226.7 268.7L227.4 270.1L228.2 271.7L228.9 273.4L229.7 275.1L230.4 276.9L231.2 278.7L231.9 280.4L232.7 282.2L233.4 284.0L234.2 285.8L234.9 287.5L235.7 289.3L236.4 290.9L237.2 292.5L237.9 294.1L238.7 295.5L239.4 297.0L240.2 298.4L240.9 299.8L241.7 301.1L242.4 302.4L243.2 303.7L243.9 304.8L244.7 306.0L245.4 307.0L246.2 308.0L246.9 309.0L247.7 309.9L248.4 310.8L249.2 311.6L249.9 312.3L250.7 313.1L251.4 313.7L252.2 314.4L252.9 315.0L253.7 315.5L254.4 316.0L255.2 316.5L255.9 317.0L256.7 317.4L257.4 317.8L258.2 318.2L258.9 318.5L259.7 318.8L260.4 319.1L261.2 319.4L261.9 319.6L262.7 319.9L263.4 320.1L264.2 320.4L264.9 320.6L265.7 320.8L266.4 320.9L267.2 321.1L267.9 321.2L268.7 321.4L269.4 321.5L270.2 321.6L270.9 321.8L271.7 321.9L272.4 322.0L273.2 322.1L273.9 322.3L274.7 322.4L275.4 322.5L276.2 322.6L276.9 322.7L277.7 322.8L278.4 322.9L279.2 323.0L279.9 323.1L280.7 323.1L281.4 323.2L282.2 323.3L282.9 323.4L283.7 323.4L284.4 323.5L285.2 323.6L285.9 323.6L286.7 323.7L287.4 323.7L288.2 323.7L288.9 323.8L289.7 323.8L290.4 323.8L291.2 323.9L291.9 323.9L292.7 323.9L293.4 324.0L294.2 324.0L294.9 324.0L295.7 324.0L296.4 324.1L297.2 324.1L297.9 324.1L298.7 324.1L299.4 324.1L300.2 324.1L300.9 324.1L301.7 324.1L302.4 324.1L303.2 324.1L303.9 324.1L304.7 324.1L305.4 324.2L306.2 324.4L306.9 324.7L307.7 325.0L308.4 325.3L309.2 325.8L309.9 326.7L310.7 328.0L311.4 331.6" stroke="#00b4f0"/>
</g>
<path d="M218.96 344.10V250.20" stroke="#1a1a1a" stroke-width="1.2" stroke-dasharray="3.8 4.2" fill="none"/>
</g>
<g>
<rect x="333.35" y="249.90" width="53.80" height="94.20" fill="#ebebeb"/>
<path d="M333.35 249.90V344.10M346.80 249.90V344.10M360.25 249.90V344.10M373.70 249.90V344.10M400.60 249.90V344.10M414.05 249.90V344.10M427.50 249.90V344.10M440.95 249.90V344.10M319.90 336.25H454.40M319.90 328.40H454.40M319.90 320.55H454.40M319.90 312.70H454.40M319.90 297.00H454.40M319.90 289.15H454.40M319.90 281.30H454.40M319.90 273.45H454.40M319.90 257.75H454.40" stroke="#e0e0e0" stroke-width="0.55" stroke-dasharray="1 1.3" fill="none"/>
<path d="M387.15 249.90V344.10M319.90 304.85H454.40M319.90 265.60H454.40" stroke="#dadada" stroke-width="0.7" fill="none"/>
<path d="M387.15 344.10v-1.4M387.15 249.90v1.4M319.90 304.85h1.4M454.40 304.85h-1.4M319.90 265.60h1.4M454.40 265.60h-1.4" stroke="#555" stroke-width="0.9" fill="none"/>
<rect x="319.90" y="249.90" width="134.50" height="94.20" fill="none" stroke="#707070" stroke-width="1"/>
<g clip-path="url(#cp33)" fill="none" stroke-width="1.65" stroke-linejoin="round" stroke-linecap="round">
<path d="M319.8 330.5L320.6 330.0L321.3 329.6L322.1 329.1L322.8 328.7L323.6 328.2L324.3 327.8L325.1 327.3L325.8 326.9L326.6 326.4L327.3 326.0L328.1 325.5L328.8 325.1L329.6 324.7L330.3 324.2L331.1 323.8L331.8 323.5L332.6 323.1L333.3 322.7L334.1 322.4L334.8 322.0L335.6 321.6L336.3 321.2L337.1 320.8L337.8 320.3L338.6 319.9L339.3 319.4L340.1 318.9L340.8 318.4L341.6 318.0L342.3 317.5L343.1 317.1L343.8 316.7L344.6 316.3L345.3 315.9L346.1 315.6L346.8 315.2L347.6 314.8L348.3 314.5L349.1 314.1L349.8 313.8L350.6 313.5L351.3 313.2L352.1 312.9L352.8 312.6L353.6 312.3L354.3 312.1L355.1 311.8L355.8 311.6L356.6 311.5L357.3 311.4L358.1 311.3L358.8 311.3L359.6 311.4L360.3 311.5L361.1 311.8L361.8 312.2L362.6 312.7L363.3 313.4L364.1 314.2L364.8 315.1L365.6 315.9L366.3 316.8L367.1 317.7L367.8 318.6L368.6 319.5L369.3 320.4L370.1 321.2L370.8 322.0L371.6 322.7L372.3 323.3L373.1 323.8L373.8 324.2L374.6 324.5L375.3 324.8L376.1 325.1L376.8 325.4L377.6 325.6L378.3 325.9L379.1 326.1L379.8 326.3L380.6 326.5L381.3 326.7L382.1 326.8L382.8 326.9L383.6 327.1L384.3 327.2L385.1 327.3L385.8 327.5L386.6 327.6L387.3 327.8L388.1 327.9L388.8 328.1L389.6 328.3L390.3 328.5L391.1 328.7L391.8 328.9L392.6 329.1L393.3 329.3L394.1 329.5L394.8 329.7L395.6 329.8L396.3 330.0L397.1 330.2L397.8 330.4L398.6 330.5L399.3 330.7L400.1 330.8L400.8 331.0L401.6 331.1L402.3 331.2L403.1 331.4L403.8 331.5L404.6 331.6L405.3 331.7L406.1 331.8L406.8 331.9L407.6 332.0L408.3 332.1L409.1 332.2L409.8 332.2L410.6 332.3L411.3 332.4L412.1 332.5L412.8 332.5L413.6 332.6L414.3 332.6L415.1 332.7L415.8 332.8L416.6 332.8L417.3 332.9L418.1 332.9L418.8 333.0L419.6 333.0L420.3 333.1L421.1 333.1L421.8 333.2L422.6 333.2L423.3 333.3L424.1 333.3L424.8 333.4L425.6 333.4L426.3 333.5L427.1 333.5L427.8 333.5L428.6 333.6L429.3 333.6L430.1 333.6L430.8 333.7L431.6 333.7L432.3 333.7L433.1 333.8L433.8 333.8L434.6 333.8L435.3 333.9L436.1 333.9L436.8 333.9L437.6 334.0L438.3 334.0L439.1 334.0L439.8 334.1L440.6 334.1L441.3 334.1L442.1 334.1L442.8 334.2L443.6 334.2L444.3 334.2L445.1 334.2L445.8 334.3L446.6 334.3L447.3 334.3L448.1 334.3L448.8 334.3L449.6 334.4L450.3 334.4L451.1 334.4L451.8 334.5L452.6 334.8L453.3 335.3L453.8 336.0" stroke="#0a0aff"/>
<path d="M319.8 325.7L320.6 322.9L321.3 322.2L322.1 321.6L322.8 321.0L323.6 320.5L324.3 320.0L325.1 319.5L325.8 319.0L326.6 318.4L327.3 317.9L328.1 317.4L328.8 316.9L329.6 316.4L330.3 315.9L331.1 315.3L331.8 314.8L332.6 314.3L333.3 313.8L334.1 313.2L334.8 312.7L335.6 312.2L336.3 311.6L337.1 311.0L337.8 310.5L338.6 309.9L339.3 309.2L340.1 308.6L340.8 308.0L341.6 307.4L342.3 306.8L343.1 306.2L343.8 305.6L344.6 305.0L345.3 304.5L346.1 303.9L346.8 303.4L347.6 302.9L348.3 302.3L349.1 301.8L349.8 301.3L350.6 300.9L351.3 300.5L352.1 300.1L352.8 299.7L353.6 299.4L354.3 299.1L355.1 298.9L355.8 298.6L356.6 298.5L357.3 298.6L358.1 298.7L358.8 299.1L359.6 299.6L360.3 300.3L361.1 301.1L361.8 302.0L362.6 303.1L363.3 304.3L364.1 305.6L364.8 307.0L365.6 308.4L366.3 310.0L367.1 311.5L367.8 313.0L368.6 314.4L369.3 315.7L370.1 317.0L370.8 318.3L371.6 319.4L372.3 320.4L373.1 321.3L373.8 322.1L374.6 322.7L375.3 323.3L376.1 323.7L376.8 324.1L377.6 324.5L378.3 324.8L379.1 325.1L379.8 325.4L380.6 325.6L381.3 325.8L382.1 325.9L382.8 326.1L383.6 326.3L384.3 326.4L385.1 326.6L385.8 326.7L386.6 326.9L387.3 327.1L388.1 327.3L388.8 327.5L389.6 327.7L390.3 327.9L391.1 328.1L391.8 328.3L392.6 328.6L393.3 328.8L394.1 329.0L394.8 329.2L395.6 329.4L396.3 329.6L397.1 329.8L397.8 330.0L398.6 330.2L399.3 330.4L400.1 330.5L400.8 330.7L401.6 330.8L402.3 331.0L403.1 331.1L403.8 331.2L404.6 331.3L405.3 331.5L406.1 331.6L406.8 331.7L407.6 331.8L408.3 331.9L409.1 331.9L409.8 332.0L410.6 332.1L411.3 332.2L412.1 332.3L412.8 332.3L413.6 332.4L414.3 332.5L415.1 332.5L415.8 332.6L416.6 332.7L417.3 332.7L418.1 332.8L418.8 332.8L419.6 332.9L420.3 333.0L421.1 333.0L421.8 333.1L422.6 333.1L423.3 333.2L424.1 333.2L424.8 333.3L425.6 333.3L426.3 333.4L427.1 333.4L427.8 333.4L428.6 333.5L429.3 333.5L430.1 333.5L430.8 333.6L431.6 333.6L432.3 333.6L433.1 333.7L433.8 333.7L434.6 333.7L435.3 333.8L436.1 333.8L436.8 333.8L437.6 333.9L438.3 333.9L439.1 333.9L439.8 334.0L440.6 334.0L441.3 334.0L442.1 334.0L442.8 334.1L443.6 334.1L444.3 334.1L445.1 334.1L445.8 334.2L446.6 334.2L447.3 334.2L448.1 334.2L448.8 334.2L449.6 334.3L450.3 334.3L451.1 334.3L451.8 334.4L452.6 334.7L453.3 335.2L453.8 335.9" stroke="#ff1414"/>
<path d="M319.8 321.3L320.2 316.8L323.4 313.0L320.4 318.0L321.1 317.2L321.9 316.4L322.6 315.6L323.4 314.8L324.1 314.0L324.9 313.2L325.6 312.3L326.4 311.5L327.1 310.7L327.9 310.0L328.6 309.3L329.4 308.6L330.1 308.0L330.9 307.4L331.6 306.9L332.4 306.3L333.1 305.8L333.9 305.2L334.6 304.7L335.4 304.1L336.1 303.6L336.9 303.0L337.6 302.4L338.4 301.8L339.1 301.2L339.9 300.6L340.6 300.0L341.4 299.3L342.1 298.6L342.9 297.8L343.6 297.0L344.4 296.1L345.1 295.2L345.9 294.4L346.6 293.5L347.4 292.8L348.1 292.0L348.9 291.4L349.6 290.8L350.4 290.2L351.1 289.7L351.9 289.2L352.6 288.8L353.4 288.4L354.1 288.1L354.9 287.9L355.6 287.7L356.4 287.7L357.1 287.8L357.9 287.9L358.6 288.2L359.4 288.6L360.1 289.1L360.9 289.7L361.6 290.3L362.4 291.0L363.1 291.8L363.9 292.7L364.6 293.6L365.4 294.7L366.1 296.0L366.9 297.5L367.6 299.1L368.4 300.9L369.1 302.7L369.9 304.5L370.6 306.2L371.4 308.0L372.1 309.8L372.9 311.5L373.6 313.1L374.4 314.6L375.1 316.0L375.9 317.1L376.6 318.2L377.4 319.1L378.1 319.9L378.9 320.7L379.6 321.3L380.4 322.0L381.1 322.5L381.9 323.0L382.6 323.5L383.4 323.9L384.1 324.3L384.9 324.7L385.6 325.1L386.4 325.4L387.1 325.7L387.9 326.0L388.6 326.3L389.4 326.6L390.1 326.9L390.9 327.2L391.6 327.5L392.4 327.8L393.1 328.0L393.9 328.3L394.6 328.6L395.4 328.8L396.1 329.0L396.9 329.3L397.6 329.5L398.4 329.7L399.1 329.8L399.9 330.0L400.6 330.2L401.4 330.3L402.1 330.5L402.9 330.6L403.6 330.7L404.4 330.9L405.1 331.0L405.9 331.1L406.6 331.3L407.4 331.4L408.1 331.5L408.9 331.6L409.6 331.7L410.4 331.8L411.1 331.9L411.9 331.9L412.6 332.0L413.4 332.1L414.1 332.2L414.9 332.2L415.6 332.3L416.4 332.4L417.1 332.4L417.9 332.5L418.6 332.6L419.4 332.6L420.1 332.7L420.9 332.8L421.6 332.8L422.4 332.9L423.1 333.0L423.9 333.0L424.6 333.1L425.4 333.1L426.1 333.2L426.9 333.2L427.6 333.2L428.4 333.3L429.1 333.3L429.9 333.4L430.6 333.4L431.4 333.4L432.1 333.5L432.9 333.5L433.6 333.6L434.4 333.6L435.1 333.6L435.9 333.7L436.6 333.7L437.4 333.8L438.1 333.8L438.9 333.8L439.6 333.9L440.4 333.9L441.1 333.9L441.9 334.0L442.6 334.0L443.4 334.0L444.1 334.0L444.9 334.0L445.6 334.1L446.4 334.1L447.1 334.1L447.9 334.1L448.6 334.1L449.4 334.1L450.1 334.2L450.9 334.2L451.6 334.3L452.4 334.5L453.1 334.9L453.9 336.0" stroke="#00a651"/>
<path d="M319.8 316.2L320.6 313.6L323.4 311.0L320.9 313.8L321.6 313.0L322.4 312.2L323.1 311.3L323.9 310.5L324.6 309.6L325.4 308.8L326.1 307.9L326.9 307.1L327.6 306.3L328.4 305.6L329.1 304.9L329.9 304.3L330.6 303.8L331.4 303.2L332.1 302.7L332.9 302.1L333.6 301.6L334.4 301.1L335.1 300.6L335.9 300.0L336.6 299.5L337.4 298.9L338.1 298.4L338.9 297.8L339.6 297.2L340.4 296.6L341.1 295.9L341.9 295.2L342.6 294.5L343.4 293.6L344.1 292.8L344.9 291.9L345.6 290.9L346.4 289.9L347.1 288.9L347.9 287.8L348.6 286.7L349.4 285.7L350.1 284.6L350.9 283.6L351.6 282.8L352.4 282.0L353.1 281.4L353.9 280.9L354.6 280.5L355.4 280.2L356.1 280.0L356.9 279.8L357.6 279.8L358.4 279.8L359.1 279.8L359.9 279.9L360.6 280.2L361.4 280.5L362.1 281.0L362.9 281.6L363.6 282.4L364.4 283.3L365.1 284.2L365.9 285.3L366.6 286.5L367.4 287.8L368.1 289.1L368.9 290.5L369.6 291.9L370.4 293.4L371.1 294.9L371.9 296.5L372.6 298.3L373.4 300.2L374.1 302.1L374.9 304.1L375.6 305.9L376.4 307.6L377.1 309.3L377.9 310.8L378.6 312.2L379.4 313.5L380.1 314.7L380.9 315.8L381.6 316.8L382.4 317.7L383.1 318.5L383.9 319.2L384.6 320.0L385.4 320.6L386.1 321.2L386.9 321.8L387.6 322.3L388.4 322.8L389.1 323.3L389.9 323.8L390.6 324.2L391.4 324.6L392.1 325.0L392.9 325.4L393.6 325.8L394.4 326.2L395.1 326.5L395.9 326.9L396.6 327.2L397.4 327.5L398.1 327.8L398.9 328.0L399.6 328.2L400.4 328.4L401.1 328.6L401.9 328.8L402.6 329.0L403.4 329.2L404.1 329.4L404.9 329.5L405.6 329.7L406.4 329.8L407.1 330.0L407.9 330.1L408.6 330.2L409.4 330.4L410.1 330.5L410.9 330.6L411.6 330.7L412.4 330.8L413.1 330.9L413.9 331.0L414.6 331.0L415.4 331.1L416.1 331.2L416.9 331.3L417.6 331.4L418.4 331.5L419.1 331.5L419.9 331.6L420.6 331.7L421.4 331.8L422.1 331.8L422.9 331.9L423.6 332.0L424.4 332.0L425.1 332.1L425.9 332.1L426.6 332.2L427.4 332.3L428.1 332.3L428.9 332.4L429.6 332.4L430.4 332.5L431.1 332.5L431.9 332.6L432.6 332.6L433.4 332.7L434.1 332.7L434.9 332.8L435.6 332.8L436.4 332.9L437.1 332.9L437.9 333.0L438.6 333.0L439.4 333.1L440.1 333.1L440.9 333.1L441.6 333.2L442.4 333.2L443.1 333.2L443.9 333.2L444.6 333.2L445.4 333.3L446.1 333.3L446.9 333.3L447.6 333.3L448.4 333.3L449.1 333.3L449.9 333.4L450.6 333.4L451.4 333.5L452.1 333.6L452.9 334.0L453.6 334.9L453.9 335.4" stroke="#ffa500"/>
<path d="M319.7 308.5L320.4 301.7L321.2 300.6L321.9 299.8L322.7 299.0L323.4 298.2L324.2 297.5L324.9 296.8L325.7 296.1L326.4 295.4L327.2 294.7L327.9 294.1L328.7 293.4L329.4 292.7L330.2 292.0L330.9 291.4L331.7 290.7L332.4 290.0L333.2 289.4L333.9 288.7L334.7 288.0L335.4 287.4L336.2 286.6L336.9 285.9L337.7 285.1L338.4 284.2L339.2 283.3L339.9 282.3L340.7 281.4L341.4 280.4L342.2 279.4L342.9 278.4L343.7 277.4L344.4 276.3L345.2 275.3L345.9 274.2L346.7 273.1L347.4 272.1L348.2 271.1L348.9 270.1L349.7 269.2L350.4 268.4L351.2 267.7L351.9 267.1L352.7 266.5L353.4 266.1L354.2 265.7L354.9 265.4L355.7 265.2L356.4 265.0L357.2 265.0L357.9 265.1L358.7 265.4L359.4 265.7L360.2 266.2L360.9 266.9L361.7 267.6L362.4 268.4L363.2 269.4L363.9 270.4L364.7 271.4L365.4 272.6L366.2 273.8L366.9 275.1L367.7 276.4L368.4 277.8L369.2 279.4L369.9 281.0L370.7 282.7L371.4 284.5L372.2 286.2L372.9 288.0L373.7 289.7L374.4 291.4L375.2 293.1L375.9 294.7L376.7 296.3L377.4 297.8L378.2 299.1L378.9 300.4L379.7 301.6L380.4 302.7L381.2 303.8L381.9 304.8L382.7 305.9L383.4 306.9L384.2 307.8L384.9 308.8L385.7 309.7L386.4 310.6L387.2 311.4L387.9 312.2L388.7 312.9L389.4 313.6L390.2 314.3L390.9 315.1L391.7 315.8L392.4 316.5L393.2 317.2L393.9 318.0L394.7 318.6L395.4 319.3L396.2 319.9L396.9 320.4L397.7 320.8L398.4 321.2L399.2 321.6L399.9 321.9L400.7 322.3L401.4 322.6L402.2 322.8L402.9 323.1L403.7 323.4L404.4 323.6L405.2 323.8L405.9 324.0L406.7 324.2L407.4 324.4L408.2 324.6L408.9 324.8L409.7 324.9L410.4 325.1L411.2 325.2L411.9 325.3L412.7 325.4L413.4 325.5L414.2 325.6L414.9 325.7L415.7 325.8L416.4 325.8L417.2 325.9L417.9 326.0L418.7 326.1L419.4 326.1L420.2 326.2L420.9 326.3L421.7 326.3L422.4 326.4L423.2 326.5L423.9 326.5L424.7 326.6L425.4 326.6L426.2 326.7L426.9 326.7L427.7 326.7L428.4 326.8L429.2 326.8L429.9 326.9L430.7 326.9L431.4 327.0L432.2 327.0L432.9 327.0L433.7 327.1L434.4 327.1L435.2 327.2L435.9 327.2L436.7 327.2L437.4 327.3L438.2 327.3L438.9 327.3L439.7 327.4L440.4 327.4L441.2 327.4L441.9 327.4L442.7 327.4L443.4 327.4L444.2 327.4L444.9 327.5L445.7 327.5L446.4 327.5L447.2 327.5L447.9 327.6L448.7 327.7L449.4 327.9L450.2 328.1L450.9 328.3L451.7 328.7L452.4 329.4L453.2 330.5L453.7 332.3" stroke="#00b4f0"/>
</g>
<path d="M360.25 344.10V250.20" stroke="#1a1a1a" stroke-width="1.2" stroke-dasharray="3.8 4.2" fill="none"/>
</g>
<g font-weight="bold" font-size="15px" text-anchor="middle">
<text transform="translate(108.5 16.6) scale(0.97 1)" style="fill:#000">Xe</text>
<text transform="translate(245.8 16.6) scale(0.97 1)" style="fill:#000">Kr</text>
<text transform="translate(387.5 16.6) scale(0.97 1)" style="fill:#000">Ar</text>
</g>
<g font-size="10px" text-anchor="end">
<text x="35.7" y="125.00">0</text>
<text x="35.7" y="93.47">1</text>
<text x="35.7" y="61.93">2</text>
<text x="35.7" y="30.40">3</text>
<text x="35.7" y="219.31">0</text>
<text x="35.7" y="190.00">0.5</text>
<text x="35.7" y="160.69">1</text>
<text x="34.9" y="347.70">0</text>
<text x="34.9" y="308.45">50</text>
<text x="34.9" y="269.20">100</text>
</g>
<g font-size="10px" text-anchor="middle">
<text x="38.40" y="357.7">0</text>
<text x="104.60" y="357.7">0.5</text>
<text x="170.80" y="357.7">1</text>
<text x="179.00" y="357.7">0</text>
<text x="245.60" y="357.7">0.5</text>
<text x="312.20" y="357.7">1</text>
<text x="319.90" y="357.7">0</text>
<text x="387.15" y="357.7">0.5</text>
<text x="454.40" y="357.7">1</text>
</g>
<g font-size="11px" text-anchor="middle">
<text x="104.80" y="372.7" font-size="10.8px">x/Lx</text>
<text x="245.80" y="372.7" font-size="10.8px">x/Lx</text>
<text x="387.35" y="372.7" font-size="10.8px">x/Lx</text>
</g>
<g font-size="11px" text-anchor="middle">
<text transform="translate(26.5 74.6) rotate(-90)" font-size="11.3px">ni [m<tspan font-size="7.6px" dy="-5.4">-3</tspan><tspan dy="5.4">]</tspan></text>
<text transform="translate(18.0 186.4) rotate(-90)">Ex [V/m]</text>
<text transform="translate(12.7 297) rotate(-90)">Te [eV]</text>
</g>
<g font-size="9.5px">
<text y="24.7"><tspan x="39.3" font-size="11.5px">×</tspan><tspan x="46.7">10</tspan><tspan x="57.2" font-size="7.4px" dy="-4.9">17</tspan></text>
<text y="136.7"><tspan x="39.3" font-size="11.5px">×</tspan><tspan x="46.7">10</tspan><tspan x="57.2" font-size="7.4px" dy="-4.9">5</tspan></text>
</g>
<g>
<rect x="464.4" y="37.5" width="81" height="76.6" fill="#fff" stroke="#4d4d4d" stroke-width="0.9"/>
<g font-size="10px">
<path d="M470.8 45.85H494.3" stroke="#0a0aff" stroke-width="1.65" fill="none"/>
<text x="496.2" y="49.55">V = 100 V</text>
<path d="M470.8 61.00H494.3" stroke="#ff1414" stroke-width="1.65" fill="none"/>
<text x="496.2" y="64.70">V = 200 V</text>
<path d="M470.8 76.15H494.3" stroke="#00a651" stroke-width="1.65" fill="none"/>
<text x="496.2" y="79.85">V = 300 V</text>
<path d="M470.8 91.30H494.3" stroke="#ffa500" stroke-width="1.65" fill="none"/>
<text x="496.2" y="95.00">V = 400 V</text>
<path d="M470.8 106.45H494.3" stroke="#00b4f0" stroke-width="1.65" fill="none"/>
<text x="496.2" y="110.15">V = 600 V</text>
</g>
</g>
</svg>
</body></html>
